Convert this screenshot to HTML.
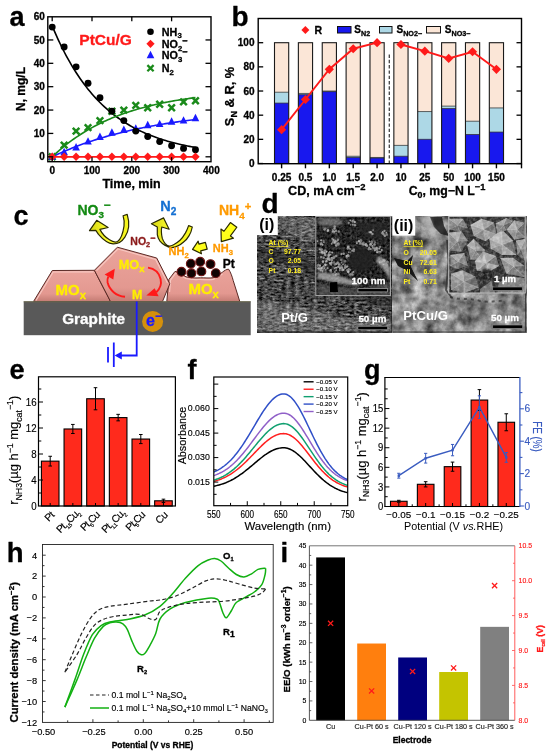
<!DOCTYPE html>
<html><head><meta charset="utf-8"><title>Figure</title>
<style>
html,body{margin:0;padding:0;background:#fff;overflow:hidden;}
svg{display:block;font-family:'Liberation Sans', Arial, sans-serif;}
</style></head><body>
<svg width="550" height="755" viewBox="0 0 550 755">
<rect width="550" height="755" fill="#fff"/>
<g id="pa">
<text x="9.5" y="26.2" font-size="27" font-weight="bold" fill="#000" text-anchor="start"  stroke="#000" stroke-width="0.3" stroke-linejoin="round"><tspan dy="0.00" font-size="27.00">a</tspan></text>
<polyline points="52.20,25.93 54.19,30.64 56.18,35.18 58.17,39.55 60.16,43.77 62.15,47.84 64.14,51.76 66.13,55.54 68.12,59.19 70.11,62.70 72.10,66.09 74.09,69.35 76.08,72.50 78.07,75.53 80.06,78.46 82.05,81.27 84.04,83.99 86.03,86.61 88.02,89.14 90.01,91.57 92.00,93.92 93.99,96.18 95.98,98.36 97.97,100.47 99.96,102.49 101.95,104.45 103.94,106.33 105.93,108.15 107.92,109.90 109.91,111.59 111.90,113.21 113.89,114.78 115.88,116.30 117.87,117.75 119.86,119.16 121.85,120.51 123.84,121.82 125.83,123.08 127.82,124.29 129.81,125.46 131.80,126.59 133.79,127.68 135.78,128.72 137.77,129.73 139.76,130.71 141.75,131.65 143.74,132.55 145.73,133.42 147.72,134.27 149.71,135.08 151.70,135.86 153.69,136.61 155.68,137.34 157.67,138.04 159.66,138.71 161.65,139.37 163.64,139.99 165.63,140.60 167.62,141.18 169.61,141.74 171.60,142.28 173.59,142.81 175.58,143.31 177.57,143.80 179.56,144.26 181.55,144.71 183.54,145.15 185.53,145.57 187.52,145.97 189.51,146.36 191.50,146.74 193.49,147.10 195.48,147.45" fill="none" stroke="#000" stroke-width="1.6" />
<polyline points="52.20,156.80 54.19,154.92 56.18,153.10 58.17,151.33 60.16,149.60 62.15,147.92 64.14,146.29 66.13,144.70 68.12,143.16 70.11,141.65 72.10,140.19 74.09,138.77 76.08,137.39 78.07,136.05 80.06,134.74 82.05,133.47 84.04,132.23 86.03,131.03 88.02,129.86 90.01,128.72 92.00,127.61 93.99,126.54 95.98,125.49 97.97,124.47 99.96,123.48 101.95,122.52 103.94,121.58 105.93,120.67 107.92,119.78 109.91,118.92 111.90,118.08 113.89,117.27 115.88,116.48 117.87,115.71 119.86,114.96 121.85,114.23 123.84,113.52 125.83,112.83 127.82,112.15 129.81,111.50 131.80,110.87 133.79,110.25 135.78,109.65 137.77,109.06 139.76,108.50 141.75,107.94 143.74,107.41 145.73,106.88 147.72,106.38 149.71,105.88 151.70,105.40 153.69,104.93 155.68,104.48 157.67,104.03 159.66,103.60 161.65,103.19 163.64,102.78 165.63,102.38 167.62,102.00 169.61,101.62 171.60,101.26 173.59,100.90 175.58,100.56 177.57,100.22 179.56,99.90 181.55,99.58 183.54,99.27 185.53,98.97 187.52,98.68 189.51,98.40 191.50,98.12 193.49,97.85 195.48,97.59" fill="none" stroke="#1a8a1a" stroke-width="1.6" />
<polyline points="52.20,156.80 54.19,155.85 56.18,154.92 58.17,154.01 60.16,153.11 62.15,152.24 64.14,151.38 66.13,150.53 68.12,149.70 70.11,148.89 72.10,148.09 74.09,147.31 76.08,146.54 78.07,145.79 80.06,145.05 82.05,144.33 84.04,143.62 86.03,142.92 88.02,142.24 90.01,141.56 92.00,140.91 93.99,140.26 95.98,139.63 97.97,139.01 99.96,138.40 101.95,137.80 103.94,137.21 105.93,136.64 107.92,136.07 109.91,135.52 111.90,134.98 113.89,134.45 115.88,133.92 117.87,133.41 119.86,132.91 121.85,132.42 123.84,131.93 125.83,131.46 127.82,130.99 129.81,130.54 131.80,130.09 133.79,129.65 135.78,129.22 137.77,128.79 139.76,128.38 141.75,127.97 143.74,127.57 145.73,127.18 147.72,126.80 149.71,126.42 151.70,126.05 153.69,125.69 155.68,125.33 157.67,124.99 159.66,124.64 161.65,124.31 163.64,123.98 165.63,123.66 167.62,123.34 169.61,123.03 171.60,122.72 173.59,122.42 175.58,122.13 177.57,121.84 179.56,121.56 181.55,121.28 183.54,121.01 185.53,120.75 187.52,120.48 189.51,120.23 191.50,119.98 193.49,119.73 195.48,119.49" fill="none" stroke="#1a1aff" stroke-width="1.6" />
<line x1="52.20" y1="156.80" x2="195.48" y2="156.80" stroke="#ff1a1a" stroke-width="1.8" />
<path d="M48.90,153.50L55.50,160.10M48.90,160.10L55.50,153.50" stroke="#1a8a1a" stroke-width="2.5" fill="none"/>
<path d="M60.84,141.81L67.44,148.42M60.84,148.42L67.44,141.81" stroke="#1a8a1a" stroke-width="2.5" fill="none"/>
<path d="M72.78,127.79L79.38,134.39M72.78,134.39L79.38,127.79" stroke="#1a8a1a" stroke-width="2.5" fill="none"/>
<path d="M84.72,124.29L91.32,130.89M84.72,130.89L91.32,124.29" stroke="#1a8a1a" stroke-width="2.5" fill="none"/>
<path d="M96.66,117.28L103.26,123.88M96.66,123.88L103.26,117.28" stroke="#1a8a1a" stroke-width="2.5" fill="none"/>
<path d="M108.60,107.93L115.20,114.53M108.60,114.53L115.20,107.93" stroke="#1a8a1a" stroke-width="2.5" fill="none"/>
<path d="M120.54,106.76L127.14,113.36M120.54,113.36L127.14,106.76" stroke="#1a8a1a" stroke-width="2.5" fill="none"/>
<path d="M132.48,102.09L139.08,108.69M132.48,108.69L139.08,102.09" stroke="#1a8a1a" stroke-width="2.5" fill="none"/>
<path d="M144.42,104.42L151.02,111.02M144.42,111.02L151.02,104.42" stroke="#1a8a1a" stroke-width="2.5" fill="none"/>
<path d="M156.36,100.92L162.96,107.52M156.36,107.52L162.96,100.92" stroke="#1a8a1a" stroke-width="2.5" fill="none"/>
<path d="M168.30,104.42L174.90,111.02M168.30,111.02L174.90,104.42" stroke="#1a8a1a" stroke-width="2.5" fill="none"/>
<path d="M180.24,98.58L186.84,105.18M180.24,105.18L186.84,98.58" stroke="#1a8a1a" stroke-width="2.5" fill="none"/>
<path d="M192.18,97.41L198.78,104.01M192.18,104.01L198.78,97.41" stroke="#1a8a1a" stroke-width="2.5" fill="none"/>
<path d="M52.20,152.40L56.00,159.80L48.40,159.80Z" fill="#1a1aff"/>
<path d="M64.14,147.73L67.94,155.13L60.34,155.13Z" fill="#1a1aff"/>
<path d="M76.08,143.05L79.88,150.45L72.28,150.45Z" fill="#1a1aff"/>
<path d="M88.02,137.21L91.82,144.61L84.22,144.61Z" fill="#1a1aff"/>
<path d="M99.96,132.54L103.76,139.94L96.16,139.94Z" fill="#1a1aff"/>
<path d="M111.90,128.33L115.70,135.73L108.10,135.73Z" fill="#1a1aff"/>
<path d="M123.84,125.52L127.64,132.92L120.04,132.92Z" fill="#1a1aff"/>
<path d="M135.78,124.36L139.58,131.76L131.98,131.76Z" fill="#1a1aff"/>
<path d="M147.72,120.85L151.52,128.25L143.92,128.25Z" fill="#1a1aff"/>
<path d="M159.66,119.68L163.46,127.08L155.86,127.08Z" fill="#1a1aff"/>
<path d="M171.60,117.35L175.40,124.75L167.80,124.75Z" fill="#1a1aff"/>
<path d="M183.54,116.18L187.34,123.58L179.74,123.58Z" fill="#1a1aff"/>
<path d="M195.48,113.84L199.28,121.24L191.68,121.24Z" fill="#1a1aff"/>
<circle cx="52.20" cy="27.10" r="3.45" fill="#000"/>
<circle cx="64.14" cy="46.96" r="3.45" fill="#000"/>
<circle cx="76.08" cy="66.83" r="3.45" fill="#000"/>
<circle cx="88.02" cy="83.18" r="3.45" fill="#000"/>
<circle cx="99.96" cy="97.67" r="3.45" fill="#000"/>
<circle cx="111.90" cy="111.23" r="3.45" fill="#000"/>
<circle cx="123.84" cy="120.58" r="3.45" fill="#000"/>
<circle cx="135.78" cy="131.09" r="3.45" fill="#000"/>
<circle cx="147.72" cy="136.47" r="3.45" fill="#000"/>
<circle cx="159.66" cy="141.61" r="3.45" fill="#000"/>
<circle cx="171.60" cy="145.82" r="3.45" fill="#000"/>
<circle cx="183.54" cy="148.39" r="3.45" fill="#000"/>
<circle cx="195.48" cy="149.79" r="3.45" fill="#000"/>
<path d="M52.20,152.60L56.40,156.80L52.20,161.00L48.00,156.80Z" fill="#ff1a1a"/>
<path d="M64.14,152.60L68.34,156.80L64.14,161.00L59.94,156.80Z" fill="#ff1a1a"/>
<path d="M76.08,152.60L80.28,156.80L76.08,161.00L71.88,156.80Z" fill="#ff1a1a"/>
<path d="M88.02,152.60L92.22,156.80L88.02,161.00L83.82,156.80Z" fill="#ff1a1a"/>
<path d="M99.96,152.60L104.16,156.80L99.96,161.00L95.76,156.80Z" fill="#ff1a1a"/>
<path d="M111.90,152.60L116.10,156.80L111.90,161.00L107.70,156.80Z" fill="#ff1a1a"/>
<path d="M123.84,152.60L128.04,156.80L123.84,161.00L119.64,156.80Z" fill="#ff1a1a"/>
<path d="M135.78,152.60L139.98,156.80L135.78,161.00L131.58,156.80Z" fill="#ff1a1a"/>
<path d="M147.72,152.60L151.92,156.80L147.72,161.00L143.52,156.80Z" fill="#ff1a1a"/>
<path d="M159.66,152.60L163.86,156.80L159.66,161.00L155.46,156.80Z" fill="#ff1a1a"/>
<path d="M171.60,152.60L175.80,156.80L171.60,161.00L167.40,156.80Z" fill="#ff1a1a"/>
<path d="M183.54,152.60L187.74,156.80L183.54,161.00L179.34,156.80Z" fill="#ff1a1a"/>
<path d="M195.48,152.60L199.68,156.80L195.48,161.00L191.28,156.80Z" fill="#ff1a1a"/>
<rect x="47.80" y="16.80" width="163.20" height="144.90" fill="none" stroke="#000" stroke-width="1.4" />
<line x1="47.80" y1="156.80" x2="53.30" y2="156.80" stroke="#000" stroke-width="1.3" />
<line x1="211.00" y1="156.80" x2="205.50" y2="156.80" stroke="#000" stroke-width="1.3" />
<line x1="47.80" y1="133.43" x2="53.30" y2="133.43" stroke="#000" stroke-width="1.3" />
<line x1="211.00" y1="133.43" x2="205.50" y2="133.43" stroke="#000" stroke-width="1.3" />
<line x1="47.80" y1="110.06" x2="53.30" y2="110.06" stroke="#000" stroke-width="1.3" />
<line x1="211.00" y1="110.06" x2="205.50" y2="110.06" stroke="#000" stroke-width="1.3" />
<line x1="47.80" y1="86.69" x2="53.30" y2="86.69" stroke="#000" stroke-width="1.3" />
<line x1="211.00" y1="86.69" x2="205.50" y2="86.69" stroke="#000" stroke-width="1.3" />
<line x1="47.80" y1="63.32" x2="53.30" y2="63.32" stroke="#000" stroke-width="1.3" />
<line x1="211.00" y1="63.32" x2="205.50" y2="63.32" stroke="#000" stroke-width="1.3" />
<line x1="47.80" y1="39.95" x2="53.30" y2="39.95" stroke="#000" stroke-width="1.3" />
<line x1="211.00" y1="39.95" x2="205.50" y2="39.95" stroke="#000" stroke-width="1.3" />
<text x="44.8" y="160.4" font-size="10" font-weight="bold" fill="#000" text-anchor="end"  stroke="#000" stroke-width="0.3" stroke-linejoin="round"><tspan dy="0.00" font-size="10.00">0</tspan></text>
<text x="44.8" y="137.03" font-size="10" font-weight="bold" fill="#000" text-anchor="end"  stroke="#000" stroke-width="0.3" stroke-linejoin="round"><tspan dy="0.00" font-size="10.00">10</tspan></text>
<text x="44.8" y="113.66" font-size="10" font-weight="bold" fill="#000" text-anchor="end"  stroke="#000" stroke-width="0.3" stroke-linejoin="round"><tspan dy="0.00" font-size="10.00">20</tspan></text>
<text x="44.8" y="90.29" font-size="10" font-weight="bold" fill="#000" text-anchor="end"  stroke="#000" stroke-width="0.3" stroke-linejoin="round"><tspan dy="0.00" font-size="10.00">30</tspan></text>
<text x="44.8" y="66.92" font-size="10" font-weight="bold" fill="#000" text-anchor="end"  stroke="#000" stroke-width="0.3" stroke-linejoin="round"><tspan dy="0.00" font-size="10.00">40</tspan></text>
<text x="44.8" y="43.550000000000004" font-size="10" font-weight="bold" fill="#000" text-anchor="end"  stroke="#000" stroke-width="0.3" stroke-linejoin="round"><tspan dy="0.00" font-size="10.00">50</tspan></text>
<text x="44.8" y="20.180000000000014" font-size="10" font-weight="bold" fill="#000" text-anchor="end"  stroke="#000" stroke-width="0.3" stroke-linejoin="round"><tspan dy="0.00" font-size="10.00">60</tspan></text>
<line x1="52.20" y1="161.70" x2="52.20" y2="157.20" stroke="#000" stroke-width="1.3" />
<line x1="52.20" y1="16.80" x2="52.20" y2="21.30" stroke="#000" stroke-width="1.3" />
<line x1="92.00" y1="161.70" x2="92.00" y2="157.20" stroke="#000" stroke-width="1.3" />
<line x1="92.00" y1="16.80" x2="92.00" y2="21.30" stroke="#000" stroke-width="1.3" />
<line x1="131.80" y1="161.70" x2="131.80" y2="157.20" stroke="#000" stroke-width="1.3" />
<line x1="131.80" y1="16.80" x2="131.80" y2="21.30" stroke="#000" stroke-width="1.3" />
<line x1="171.60" y1="161.70" x2="171.60" y2="157.20" stroke="#000" stroke-width="1.3" />
<line x1="171.60" y1="16.80" x2="171.60" y2="21.30" stroke="#000" stroke-width="1.3" />
<text x="52.2" y="174.3" font-size="10" font-weight="bold" fill="#000" text-anchor="middle"  stroke="#000" stroke-width="0.3" stroke-linejoin="round"><tspan dy="0.00" font-size="10.00">0</tspan></text>
<text x="92.0" y="174.3" font-size="10" font-weight="bold" fill="#000" text-anchor="middle"  stroke="#000" stroke-width="0.3" stroke-linejoin="round"><tspan dy="0.00" font-size="10.00">100</tspan></text>
<text x="131.8" y="174.3" font-size="10" font-weight="bold" fill="#000" text-anchor="middle"  stroke="#000" stroke-width="0.3" stroke-linejoin="round"><tspan dy="0.00" font-size="10.00">200</tspan></text>
<text x="171.60000000000002" y="174.3" font-size="10" font-weight="bold" fill="#000" text-anchor="middle"  stroke="#000" stroke-width="0.3" stroke-linejoin="round"><tspan dy="0.00" font-size="10.00">300</tspan></text>
<text x="211.40000000000003" y="174.3" font-size="10" font-weight="bold" fill="#000" text-anchor="middle"  stroke="#000" stroke-width="0.3" stroke-linejoin="round"><tspan dy="0.00" font-size="10.00">400</tspan></text>
<text x="131.5" y="187.8" font-size="12.5" font-weight="bold" fill="#000" text-anchor="middle"  stroke="#000" stroke-width="0.3" stroke-linejoin="round"><tspan dy="0.00" font-size="12.50">Time, min</tspan></text>
<text x="25.2" y="89" font-size="12" font-weight="bold" fill="#000" text-anchor="middle" transform="rotate(-90 25.2 89)"  stroke="#000" stroke-width="0.3" stroke-linejoin="round"><tspan dy="0.00" font-size="12.00">N, mg/L</tspan></text>
<text x="79.3" y="45.3" font-size="15.5" font-weight="bold" fill="#ff1a1a" text-anchor="start"  stroke="#ff1a1a" stroke-width="0.3" stroke-linejoin="round"><tspan dy="0.00" font-size="15.50">PtCu/G</tspan></text>
<circle cx="150.5" cy="31.8" r="3.3" fill="#000"/>
<path d="M150.5,39.699999999999996L154.6,43.8L150.5,47.9L146.4,43.8Z" fill="#ff1a1a"/>
<path d="M150.5,50.800000000000004L154.3,58.2L146.7,58.2Z" fill="#1a1aff"/>
<path d="M147.4,65.10000000000001L153.6,71.3M147.4,71.3L153.6,65.10000000000001" stroke="#1a8a1a" stroke-width="2.3" fill="none"/>
<text x="161.8" y="35.5" font-size="10.8" font-weight="bold" fill="#000" text-anchor="start"  stroke="#000" stroke-width="0.3" stroke-linejoin="round"><tspan dy="0.00" font-size="10.80">NH</tspan><tspan dy="2.70" font-size="7.78">3</tspan></text>
<text x="161.8" y="47.9" font-size="10.8" font-weight="bold" fill="#000" text-anchor="start"  stroke="#000" stroke-width="0.3" stroke-linejoin="round"><tspan dy="0.00" font-size="10.80">NO</tspan><tspan dy="2.70" font-size="7.78">2</tspan><tspan dy="-6.80" font-size="9.18">−</tspan></text>
<text x="161.8" y="59.4" font-size="10.8" font-weight="bold" fill="#000" text-anchor="start"  stroke="#000" stroke-width="0.3" stroke-linejoin="round"><tspan dy="0.00" font-size="10.80">NO</tspan><tspan dy="2.70" font-size="7.78">3</tspan><tspan dy="-6.80" font-size="9.18">−</tspan></text>
<text x="161.8" y="72" font-size="10.8" font-weight="bold" fill="#000" text-anchor="start"  stroke="#000" stroke-width="0.3" stroke-linejoin="round"><tspan dy="0.00" font-size="10.80">N</tspan><tspan dy="2.70" font-size="7.78">2</tspan></text>
</g>
<g id="pb">
<text x="231.5" y="25.6" font-size="28" font-weight="bold" fill="#000" text-anchor="start"  stroke="#000" stroke-width="0.3" stroke-linejoin="round"><tspan dy="0.00" font-size="28.00">b</tspan></text>
<rect x="274.50" y="42.70" width="14.20" height="49.53" fill="#fbe6d7" stroke="none" stroke-width="1" />
<rect x="274.50" y="92.23" width="14.20" height="10.87" fill="#add8e6" stroke="none" stroke-width="1" />
<rect x="274.50" y="103.10" width="14.20" height="60.40" fill="#1818ee" stroke="none" stroke-width="1" />
<line x1="274.50" y1="92.23" x2="288.70" y2="92.23" stroke="#222" stroke-width="0.7" />
<line x1="274.50" y1="103.10" x2="288.70" y2="103.10" stroke="#222" stroke-width="0.7" />
<rect x="274.50" y="42.70" width="14.20" height="120.80" fill="none" stroke="#1a1a1a" stroke-width="1.1" />
<rect x="298.37" y="42.70" width="14.20" height="50.74" fill="#fbe6d7" stroke="none" stroke-width="1" />
<rect x="298.37" y="93.44" width="14.20" height="1.21" fill="#add8e6" stroke="none" stroke-width="1" />
<rect x="298.37" y="94.64" width="14.20" height="68.86" fill="#1818ee" stroke="none" stroke-width="1" />
<line x1="298.37" y1="93.44" x2="312.57" y2="93.44" stroke="#222" stroke-width="0.7" />
<line x1="298.37" y1="94.64" x2="312.57" y2="94.64" stroke="#222" stroke-width="0.7" />
<rect x="298.37" y="42.70" width="14.20" height="120.80" fill="none" stroke="#1a1a1a" stroke-width="1.1" />
<rect x="322.24" y="42.70" width="14.20" height="48.32" fill="#fbe6d7" stroke="none" stroke-width="1" />
<rect x="322.24" y="91.02" width="14.20" height="0.60" fill="#add8e6" stroke="none" stroke-width="1" />
<rect x="322.24" y="91.62" width="14.20" height="71.88" fill="#1818ee" stroke="none" stroke-width="1" />
<line x1="322.24" y1="91.02" x2="336.44" y2="91.02" stroke="#222" stroke-width="0.7" />
<line x1="322.24" y1="91.62" x2="336.44" y2="91.62" stroke="#222" stroke-width="0.7" />
<rect x="322.24" y="42.70" width="14.20" height="120.80" fill="none" stroke="#1a1a1a" stroke-width="1.1" />
<rect x="346.11" y="42.70" width="14.20" height="113.55" fill="#fbe6d7" stroke="none" stroke-width="1" />
<rect x="346.11" y="156.25" width="14.20" height="1.21" fill="#add8e6" stroke="none" stroke-width="1" />
<rect x="346.11" y="157.46" width="14.20" height="6.04" fill="#1818ee" stroke="none" stroke-width="1" />
<line x1="346.11" y1="156.25" x2="360.31" y2="156.25" stroke="#222" stroke-width="0.7" />
<line x1="346.11" y1="157.46" x2="360.31" y2="157.46" stroke="#222" stroke-width="0.7" />
<rect x="346.11" y="42.70" width="14.20" height="120.80" fill="none" stroke="#1a1a1a" stroke-width="1.1" />
<rect x="369.98" y="42.70" width="14.20" height="114.76" fill="#fbe6d7" stroke="none" stroke-width="1" />
<rect x="369.98" y="157.46" width="14.20" height="0.60" fill="#add8e6" stroke="none" stroke-width="1" />
<rect x="369.98" y="158.06" width="14.20" height="5.44" fill="#1818ee" stroke="none" stroke-width="1" />
<line x1="369.98" y1="157.46" x2="384.18" y2="157.46" stroke="#222" stroke-width="0.7" />
<line x1="369.98" y1="158.06" x2="384.18" y2="158.06" stroke="#222" stroke-width="0.7" />
<rect x="369.98" y="42.70" width="14.20" height="120.80" fill="none" stroke="#1a1a1a" stroke-width="1.1" />
<rect x="393.85" y="42.70" width="14.20" height="102.68" fill="#fbe6d7" stroke="none" stroke-width="1" />
<rect x="393.85" y="145.38" width="14.20" height="10.87" fill="#add8e6" stroke="none" stroke-width="1" />
<rect x="393.85" y="156.25" width="14.20" height="7.25" fill="#1818ee" stroke="none" stroke-width="1" />
<line x1="393.85" y1="145.38" x2="408.05" y2="145.38" stroke="#222" stroke-width="0.7" />
<line x1="393.85" y1="156.25" x2="408.05" y2="156.25" stroke="#222" stroke-width="0.7" />
<rect x="393.85" y="42.70" width="14.20" height="120.80" fill="none" stroke="#1a1a1a" stroke-width="1.1" />
<rect x="417.72" y="42.70" width="14.20" height="68.86" fill="#fbe6d7" stroke="none" stroke-width="1" />
<rect x="417.72" y="111.56" width="14.20" height="27.78" fill="#add8e6" stroke="none" stroke-width="1" />
<rect x="417.72" y="139.34" width="14.20" height="24.16" fill="#1818ee" stroke="none" stroke-width="1" />
<line x1="417.72" y1="111.56" x2="431.92" y2="111.56" stroke="#222" stroke-width="0.7" />
<line x1="417.72" y1="139.34" x2="431.92" y2="139.34" stroke="#222" stroke-width="0.7" />
<rect x="417.72" y="42.70" width="14.20" height="120.80" fill="none" stroke="#1a1a1a" stroke-width="1.1" />
<rect x="441.59" y="42.70" width="14.20" height="63.42" fill="#fbe6d7" stroke="none" stroke-width="1" />
<rect x="441.59" y="106.12" width="14.20" height="2.42" fill="#add8e6" stroke="none" stroke-width="1" />
<rect x="441.59" y="108.54" width="14.20" height="54.96" fill="#1818ee" stroke="none" stroke-width="1" />
<line x1="441.59" y1="106.12" x2="455.79" y2="106.12" stroke="#222" stroke-width="0.7" />
<line x1="441.59" y1="108.54" x2="455.79" y2="108.54" stroke="#222" stroke-width="0.7" />
<rect x="441.59" y="42.70" width="14.20" height="120.80" fill="none" stroke="#1a1a1a" stroke-width="1.1" />
<rect x="465.46" y="42.70" width="14.20" height="78.52" fill="#fbe6d7" stroke="none" stroke-width="1" />
<rect x="465.46" y="121.22" width="14.20" height="13.29" fill="#add8e6" stroke="none" stroke-width="1" />
<rect x="465.46" y="134.51" width="14.20" height="28.99" fill="#1818ee" stroke="none" stroke-width="1" />
<line x1="465.46" y1="121.22" x2="479.66" y2="121.22" stroke="#222" stroke-width="0.7" />
<line x1="465.46" y1="134.51" x2="479.66" y2="134.51" stroke="#222" stroke-width="0.7" />
<rect x="465.46" y="42.70" width="14.20" height="120.80" fill="none" stroke="#1a1a1a" stroke-width="1.1" />
<rect x="489.33" y="42.70" width="14.20" height="65.23" fill="#fbe6d7" stroke="none" stroke-width="1" />
<rect x="489.33" y="107.93" width="14.20" height="24.16" fill="#add8e6" stroke="none" stroke-width="1" />
<rect x="489.33" y="132.09" width="14.20" height="31.41" fill="#1818ee" stroke="none" stroke-width="1" />
<line x1="489.33" y1="107.93" x2="503.53" y2="107.93" stroke="#222" stroke-width="0.7" />
<line x1="489.33" y1="132.09" x2="503.53" y2="132.09" stroke="#222" stroke-width="0.7" />
<rect x="489.33" y="42.70" width="14.20" height="120.80" fill="none" stroke="#1a1a1a" stroke-width="1.1" />
<line x1="389.30" y1="54.50" x2="389.30" y2="163.70" stroke="#444" stroke-width="1.3" stroke-dasharray="3.4 1.9"/>
<polyline points="281.60,129.68 305.47,99.48 329.34,69.28 353.21,48.74 377.08,42.70" fill="none" stroke="#ff1a1a" stroke-width="1.9" />
<polyline points="400.95,44.51 424.82,51.16 448.69,58.40 472.56,51.76 496.43,69.28" fill="none" stroke="#ff1a1a" stroke-width="1.9" />
<path d="M281.60,125.08L286.20,129.68L281.60,134.28L277.00,129.68Z" fill="#ff1a1a"/>
<path d="M305.47,94.88L310.07,99.48L305.47,104.08L300.87,99.48Z" fill="#ff1a1a"/>
<path d="M329.34,64.68L333.94,69.28L329.34,73.88L324.74,69.28Z" fill="#ff1a1a"/>
<path d="M353.21,44.14L357.81,48.74L353.21,53.34L348.61,48.74Z" fill="#ff1a1a"/>
<path d="M377.08,38.10L381.68,42.70L377.08,47.30L372.48,42.70Z" fill="#ff1a1a"/>
<path d="M400.95,39.91L405.55,44.51L400.95,49.11L396.35,44.51Z" fill="#ff1a1a"/>
<path d="M424.82,46.56L429.42,51.16L424.82,55.76L420.22,51.16Z" fill="#ff1a1a"/>
<path d="M448.69,53.80L453.29,58.40L448.69,63.00L444.09,58.40Z" fill="#ff1a1a"/>
<path d="M472.56,47.16L477.16,51.76L472.56,56.36L467.96,51.76Z" fill="#ff1a1a"/>
<path d="M496.43,64.68L501.03,69.28L496.43,73.88L491.83,69.28Z" fill="#ff1a1a"/>
<rect x="258.20" y="18.50" width="263.30" height="145.20" fill="none" stroke="#000" stroke-width="1.4" />
<line x1="258.20" y1="163.50" x2="263.20" y2="163.50" stroke="#000" stroke-width="1.3" />
<line x1="521.50" y1="163.50" x2="516.50" y2="163.50" stroke="#000" stroke-width="1.3" />
<text x="254.5" y="167.1" font-size="10" font-weight="bold" fill="#000" text-anchor="end"  stroke="#000" stroke-width="0.3" stroke-linejoin="round"><tspan dy="0.00" font-size="10.00">0</tspan></text>
<line x1="258.20" y1="139.34" x2="263.20" y2="139.34" stroke="#000" stroke-width="1.3" />
<line x1="521.50" y1="139.34" x2="516.50" y2="139.34" stroke="#000" stroke-width="1.3" />
<text x="254.5" y="142.94" font-size="10" font-weight="bold" fill="#000" text-anchor="end"  stroke="#000" stroke-width="0.3" stroke-linejoin="round"><tspan dy="0.00" font-size="10.00">20</tspan></text>
<line x1="258.20" y1="115.18" x2="263.20" y2="115.18" stroke="#000" stroke-width="1.3" />
<line x1="521.50" y1="115.18" x2="516.50" y2="115.18" stroke="#000" stroke-width="1.3" />
<text x="254.5" y="118.78" font-size="10" font-weight="bold" fill="#000" text-anchor="end"  stroke="#000" stroke-width="0.3" stroke-linejoin="round"><tspan dy="0.00" font-size="10.00">40</tspan></text>
<line x1="258.20" y1="91.02" x2="263.20" y2="91.02" stroke="#000" stroke-width="1.3" />
<line x1="521.50" y1="91.02" x2="516.50" y2="91.02" stroke="#000" stroke-width="1.3" />
<text x="254.5" y="94.61999999999999" font-size="10" font-weight="bold" fill="#000" text-anchor="end"  stroke="#000" stroke-width="0.3" stroke-linejoin="round"><tspan dy="0.00" font-size="10.00">60</tspan></text>
<line x1="258.20" y1="66.86" x2="263.20" y2="66.86" stroke="#000" stroke-width="1.3" />
<line x1="521.50" y1="66.86" x2="516.50" y2="66.86" stroke="#000" stroke-width="1.3" />
<text x="254.5" y="70.46" font-size="10" font-weight="bold" fill="#000" text-anchor="end"  stroke="#000" stroke-width="0.3" stroke-linejoin="round"><tspan dy="0.00" font-size="10.00">80</tspan></text>
<line x1="258.20" y1="42.70" x2="263.20" y2="42.70" stroke="#000" stroke-width="1.3" />
<line x1="521.50" y1="42.70" x2="516.50" y2="42.70" stroke="#000" stroke-width="1.3" />
<text x="254.5" y="46.300000000000004" font-size="10" font-weight="bold" fill="#000" text-anchor="end"  stroke="#000" stroke-width="0.3" stroke-linejoin="round"><tspan dy="0.00" font-size="10.00">100</tspan></text>
<line x1="281.60" y1="163.70" x2="281.60" y2="168.30" stroke="#000" stroke-width="1.4" />
<text x="281.6" y="180.5" font-size="10" font-weight="bold" fill="#000" text-anchor="middle"  stroke="#000" stroke-width="0.3" stroke-linejoin="round"><tspan dy="0.00" font-size="10.00">0.25</tspan></text>
<line x1="305.47" y1="163.70" x2="305.47" y2="168.30" stroke="#000" stroke-width="1.4" />
<text x="305.47" y="180.5" font-size="10" font-weight="bold" fill="#000" text-anchor="middle"  stroke="#000" stroke-width="0.3" stroke-linejoin="round"><tspan dy="0.00" font-size="10.00">0.5</tspan></text>
<line x1="329.34" y1="163.70" x2="329.34" y2="168.30" stroke="#000" stroke-width="1.4" />
<text x="329.34000000000003" y="180.5" font-size="10" font-weight="bold" fill="#000" text-anchor="middle"  stroke="#000" stroke-width="0.3" stroke-linejoin="round"><tspan dy="0.00" font-size="10.00">1.0</tspan></text>
<line x1="353.21" y1="163.70" x2="353.21" y2="168.30" stroke="#000" stroke-width="1.4" />
<text x="353.21000000000004" y="180.5" font-size="10" font-weight="bold" fill="#000" text-anchor="middle"  stroke="#000" stroke-width="0.3" stroke-linejoin="round"><tspan dy="0.00" font-size="10.00">1.5</tspan></text>
<line x1="377.08" y1="163.70" x2="377.08" y2="168.30" stroke="#000" stroke-width="1.4" />
<text x="377.08000000000004" y="180.5" font-size="10" font-weight="bold" fill="#000" text-anchor="middle"  stroke="#000" stroke-width="0.3" stroke-linejoin="round"><tspan dy="0.00" font-size="10.00">2.0</tspan></text>
<line x1="400.95" y1="163.70" x2="400.95" y2="168.30" stroke="#000" stroke-width="1.4" />
<text x="400.95000000000005" y="180.5" font-size="10" font-weight="bold" fill="#000" text-anchor="middle"  stroke="#000" stroke-width="0.3" stroke-linejoin="round"><tspan dy="0.00" font-size="10.00">10</tspan></text>
<line x1="424.82" y1="163.70" x2="424.82" y2="168.30" stroke="#000" stroke-width="1.4" />
<text x="424.82000000000005" y="180.5" font-size="10" font-weight="bold" fill="#000" text-anchor="middle"  stroke="#000" stroke-width="0.3" stroke-linejoin="round"><tspan dy="0.00" font-size="10.00">25</tspan></text>
<line x1="448.69" y1="163.70" x2="448.69" y2="168.30" stroke="#000" stroke-width="1.4" />
<text x="448.69000000000005" y="180.5" font-size="10" font-weight="bold" fill="#000" text-anchor="middle"  stroke="#000" stroke-width="0.3" stroke-linejoin="round"><tspan dy="0.00" font-size="10.00">50</tspan></text>
<line x1="472.56" y1="163.70" x2="472.56" y2="168.30" stroke="#000" stroke-width="1.4" />
<text x="472.56000000000006" y="180.5" font-size="10" font-weight="bold" fill="#000" text-anchor="middle"  stroke="#000" stroke-width="0.3" stroke-linejoin="round"><tspan dy="0.00" font-size="10.00">100</tspan></text>
<line x1="496.43" y1="163.70" x2="496.43" y2="168.30" stroke="#000" stroke-width="1.4" />
<text x="496.43000000000006" y="180.5" font-size="10" font-weight="bold" fill="#000" text-anchor="middle"  stroke="#000" stroke-width="0.3" stroke-linejoin="round"><tspan dy="0.00" font-size="10.00">150</tspan></text>
<line x1="521.50" y1="163.70" x2="521.50" y2="168.30" stroke="#000" stroke-width="1.4" />
<text x="326.8" y="194.6" font-size="12.6" font-weight="bold" fill="#000" text-anchor="middle"  stroke="#000" stroke-width="0.3" stroke-linejoin="round"><tspan dy="0.00" font-size="12.60">CD, mA cm</tspan><tspan dy="-4.79" font-size="9.45">−2</tspan></text>
<text x="447" y="194.6" font-size="12.3" font-weight="bold" fill="#000" text-anchor="middle"  stroke="#000" stroke-width="0.3" stroke-linejoin="round"><tspan dy="0.00" font-size="12.30">C</tspan><tspan dy="3.08" font-size="8.86">0</tspan><tspan dy="-3.08" font-size="12.30">, mg−N L</tspan><tspan dy="-4.67" font-size="9.23">−1</tspan></text>
<text x="234.3" y="96.5" font-size="12.8" font-weight="bold" fill="#000" text-anchor="middle" transform="rotate(-90 234.3 96.5)"  stroke="#000" stroke-width="0.3" stroke-linejoin="round"><tspan dy="0.00" font-size="12.80">S</tspan><tspan dy="3.20" font-size="9.22">N</tspan><tspan dy="-3.20" font-size="12.80"> &amp; R, %</tspan></text>
<path d="M305.4,26L309.4,30L305.4,34L301.4,30Z" fill="#ff1a1a"/>
<text x="314.5" y="33.6" font-size="10.5" font-weight="bold" fill="#000" text-anchor="start"  stroke="#000" stroke-width="0.3" stroke-linejoin="round"><tspan dy="0.00" font-size="10.50">R</tspan></text>
<rect x="337.50" y="26.50" width="13.50" height="6.50" fill="#1818ee" stroke="#111" stroke-width="1" />
<text x="354.3" y="33.3" font-size="10" font-weight="bold" fill="#000" text-anchor="start"  stroke="#000" stroke-width="0.3" stroke-linejoin="round"><tspan dy="0.00" font-size="10.00">S</tspan><tspan dy="2.50" font-size="7.20">N2</tspan></text>
<rect x="379.50" y="26.50" width="12.50" height="6.50" fill="#add8e6" stroke="#111" stroke-width="1" />
<text x="396.5" y="33.3" font-size="10" font-weight="bold" fill="#000" text-anchor="start"  stroke="#000" stroke-width="0.3" stroke-linejoin="round"><tspan dy="0.00" font-size="10.00">S</tspan><tspan dy="2.50" font-size="7.20">NO2−</tspan></text>
<rect x="426.50" y="26.50" width="14.00" height="6.50" fill="#fbe6d7" stroke="#111" stroke-width="1" />
<text x="444.8" y="33.3" font-size="10" font-weight="bold" fill="#000" text-anchor="start"  stroke="#000" stroke-width="0.3" stroke-linejoin="round"><tspan dy="0.00" font-size="10.00">S</tspan><tspan dy="2.50" font-size="7.20">NO3−</tspan></text>
</g>
<g id="pc">
<defs>
<linearGradient id="pk1" x1="0" y1="0" x2="0" y2="1"><stop offset="0" stop-color="#eaa39b"/><stop offset="0.75" stop-color="#e39890"/><stop offset="1" stop-color="#c47c74"/></linearGradient>
<linearGradient id="yel" x1="0" y1="0" x2="1" y2="0"><stop offset="0" stop-color="#d6d610"/><stop offset="0.5" stop-color="#ffff30"/><stop offset="1" stop-color="#f4f41a"/></linearGradient>
</defs>
<text x="13.5" y="225" font-size="27" font-weight="bold" fill="#000" text-anchor="start"  stroke="#000" stroke-width="0.3" stroke-linejoin="round"><tspan dy="0.00" font-size="27.00">c</tspan></text>
<path d="M33.5,301.5 L52.3,270.5 L94.4,270.3 L110.5,301.5 Z" fill="url(#pk1)" stroke="#5a2a26" stroke-width="1"/>
<path d="M36,300.5 L53.2,272 L93.5,271.9" fill="none" stroke="#f7c9c3" stroke-width="1.1"/>
<path d="M166.8,301.5 L168.8,279.5 L175,271.4 C179,272 182,275 186,276.8 C191,278.3 196,278 200.5,277.8 C205,277.8 209,278.3 213.2,277.7 C217,276.5 219.5,274 222.3,272.3 C224.5,270.5 226.5,269.2 228.6,269.2 C230.5,272 232,276 233.2,280.5 L239.8,301.5 Z" fill="url(#pk1)" stroke="#5a2a26" stroke-width="1"/>
<path d="M169.6,292 L170.6,280 L175.6,273.3 C179,273.8 182,276.8 186,278.5 C191,280 196,279.6 200.5,279.5 C205,279.5 209,280 213.2,279.4 C217,278.3 219.5,275.8 222.5,274" fill="none" stroke="#f7c9c3" stroke-width="1.1"/>
<path d="M94.4,270.3 L117.4,247.2 L156.7,258 L169.8,283.8 L162.5,301.5 L110.5,301.5 Z" fill="url(#pk1)" stroke="#5a2a26" stroke-width="1"/>
<path d="M96.6,270.6 L117.9,249 L155.6,259.4 L167.5,283" fill="none" stroke="#f7c9c3" stroke-width="1.1"/>
<rect x="23.70" y="301.40" width="227.00" height="33.80" fill="#595959" stroke="none" stroke-width="1" />
<line x1="23.70" y1="301.80" x2="250.70" y2="301.80" stroke="#6c6a4e" stroke-width="1" />
<text x="62.2" y="323.9" font-size="15.3" font-weight="bold" fill="#fff" text-anchor="start"  stroke="#fff" stroke-width="0.3" stroke-linejoin="round"><tspan dy="0.00" font-size="15.30">Graphite</tspan></text>
<path d="M136.7,301.5 L136.7,355.5 L117,355.5" fill="none" stroke="#1a1aff" stroke-width="1.8"/>
<path d="M114.6,355.5 L121.8,351.6 L121.8,359.4 Z" fill="#1a1aff"/>
<line x1="113.80" y1="342.50" x2="113.80" y2="367.00" stroke="#1a1aff" stroke-width="1.8" />
<line x1="108.00" y1="347.00" x2="108.00" y2="362.60" stroke="#1a1aff" stroke-width="1.8" />
<circle cx="152.6" cy="321.4" r="10.5" fill="#d4900c"/>
<text x="146" y="326.3" font-size="16" font-weight="bold" fill="#1a1aff" text-anchor="start"  stroke="#1a1aff" stroke-width="0.3" stroke-linejoin="round"><tspan dy="0.00" font-size="16.00">e</tspan><tspan dy="-6.08" font-size="12.00">−</tspan></text>
<text x="55.5" y="295.3" font-size="15" font-weight="bold" fill="#ffee00" text-anchor="start"  stroke="#ffee00" stroke-width="0.3" stroke-linejoin="round"><tspan dy="0.00" font-size="15.00">MO</tspan><tspan dy="3.75" font-size="11.25">x</tspan></text>
<text x="118.7" y="269.1" font-size="12.8" font-weight="bold" fill="#ffee00" text-anchor="start"  stroke="#ffee00" stroke-width="0.3" stroke-linejoin="round"><tspan dy="0.00" font-size="12.80">MO</tspan><tspan dy="3.20" font-size="9.60">x</tspan></text>
<text x="132" y="299" font-size="12.5" font-weight="bold" fill="#ffee00" text-anchor="start"  stroke="#ffee00" stroke-width="0.3" stroke-linejoin="round"><tspan dy="0.00" font-size="12.50">M</tspan></text>
<text x="188.4" y="294" font-size="15" font-weight="bold" fill="#ffee00" text-anchor="start"  stroke="#ffee00" stroke-width="0.3" stroke-linejoin="round"><tspan dy="0.00" font-size="15.00">MO</tspan><tspan dy="3.75" font-size="11.25">x</tspan></text>
<path d="M125,296.8 C116,296 109.5,290 107.6,282.5 C107.2,280.5 107.4,278.5 108.3,276.6" fill="none" stroke="#ff1a1a" stroke-width="1.9"/>
<path d="M114.8,268.8 L113.3,279.4 L104.6,274.6 Z" fill="#ff1a1a"/>
<path d="M148,267.6 C154,268.5 159,272.5 160.6,279 C161.8,284.5 159.8,289 156.3,292.2" fill="none" stroke="#ff1a1a" stroke-width="1.9"/>
<path d="M146.3,295.4 L154.6,288.2 L158.6,296.3 Z" fill="#ff1a1a"/>
<circle cx="190.8" cy="263.7" r="4.4" fill="#100404" stroke="#701414" stroke-width="1.1"/>
<circle cx="200.2" cy="261.8" r="4.4" fill="#100404" stroke="#701414" stroke-width="1.1"/>
<circle cx="210.5" cy="264.1" r="4.4" fill="#100404" stroke="#701414" stroke-width="1.1"/>
<circle cx="181.5" cy="271.8" r="4.4" fill="#100404" stroke="#701414" stroke-width="1.1"/>
<circle cx="191.4" cy="273.3" r="4.4" fill="#100404" stroke="#701414" stroke-width="1.1"/>
<circle cx="201.4" cy="271.4" r="4.4" fill="#100404" stroke="#701414" stroke-width="1.1"/>
<circle cx="215.8" cy="273.2" r="4.4" fill="#100404" stroke="#701414" stroke-width="1.1"/>
<text x="222.8" y="267.8" font-size="12" font-weight="bold" fill="#000" text-anchor="start"  stroke="#000" stroke-width="0.3" stroke-linejoin="round"><tspan dy="0.00" font-size="12.00">Pt</tspan></text>
<path d="M123.1,215.7 L127.2,214.4 C129.5,222 129,231 124.9,237.1 C122,241.5 117.5,244 113.1,243.9 C108,243.5 102,238.5 98.5,234.4 L95.8,230.3 L89.5,230.7 L96.7,220.3 L108.1,227.5 L99.9,229.4 C101.5,232.5 105.5,237.5 109.5,239.8 C112,241.5 115.5,242.5 117.6,241.6 C121,239 123,233 124,226.2 C124.5,222 124,218.5 123.1,215.7 Z" fill="url(#yel)" stroke="#2a2a00" stroke-width="1.2" stroke-linejoin="round"/>
<path d="M188.6,225.6 L192.3,227 C191.5,231 190.5,233.5 189.1,235.6 C187.5,238.5 185.5,240.5 183.6,242 C181.5,244 179.5,245.2 177.3,246.1 C175,247.2 173,247.7 170.9,247.6 C168.5,247.3 167,246.5 165.5,245.6 C163.5,244.5 161.5,243 160,241.1 C158.5,239 157.6,237 157.3,234.7 L157.3,227 L151.4,223.8 L163.6,217.9 L169.1,229.3 L161.8,227 C161.3,229 161.3,230.5 161.4,232 C161.5,234.5 161.8,236.5 162.3,238.4 C163,240.5 164,242 165,243.4 C166.3,245 167.5,245.8 169.1,246.1 C170.5,246.2 172,245.6 173.6,244.7 C176,243.5 178,242 180,240.2 C182.5,238 184,235.5 185.5,232.9 C186.8,230.5 187.8,228 188.6,225.6 Z" fill="url(#yel)" stroke="#2a2a00" stroke-width="1.2" stroke-linejoin="round"/>
<path transform="translate(233.6 224.9) rotate(126.2)" d="M0,-4.0 L10.8,-4.0 L10.8,-7.75 L20.8,0 L10.8,7.75 L10.8,4.0 L0,4.0 Z" fill="#ffff1a" stroke="#2a2a00" stroke-width="1.2" stroke-linejoin="round"/>
<path transform="translate(206.3 245.8) rotate(165.3)" d="M0,-3.5 L6.7,-3.5 L6.7,-6.5 L14.2,0 L6.7,6.5 L6.7,3.5 L0,3.5 Z" fill="#ffff1a" stroke="#2a2a00" stroke-width="1.2" stroke-linejoin="round"/>
<text x="77.5" y="214.8" font-size="14" font-weight="bold" fill="#138a13" text-anchor="start"  stroke="#138a13" stroke-width="0.3" stroke-linejoin="round"><tspan dy="0.00" font-size="14.00">NO</tspan><tspan dy="3.50" font-size="9.80">3</tspan><tspan dy="-8.82" font-size="11.90">−</tspan></text>
<text x="160.3" y="211" font-size="14.5" font-weight="bold" fill="#1470d2" text-anchor="start"  stroke="#1470d2" stroke-width="0.3" stroke-linejoin="round"><tspan dy="0.00" font-size="14.50">N</tspan><tspan dy="3.62" font-size="10.15">2</tspan></text>
<text x="219" y="215" font-size="14" font-weight="bold" fill="#ff9a00" text-anchor="start"  stroke="#ff9a00" stroke-width="0.3" stroke-linejoin="round"><tspan dy="0.00" font-size="14.00">NH</tspan><tspan dy="3.50" font-size="9.80">4</tspan><tspan dy="-8.82" font-size="11.20">+</tspan></text>
<text x="130.3" y="244.5" font-size="10.5" font-weight="bold" fill="#8b1a1a" text-anchor="start"  stroke="#8b1a1a" stroke-width="0.3" stroke-linejoin="round"><tspan dy="0.00" font-size="10.50">NO</tspan><tspan dy="2.62" font-size="7.35">2</tspan><tspan dy="-6.62" font-size="8.92">−</tspan></text>
<text x="168.6" y="255.3" font-size="11" font-weight="bold" fill="#ff9a00" text-anchor="start"  stroke="#ff9a00" stroke-width="0.3" stroke-linejoin="round"><tspan dy="0.00" font-size="11.00">NH</tspan><tspan dy="2.75" font-size="7.70">2</tspan></text>
<text x="212.8" y="252.2" font-size="11" font-weight="bold" fill="#ff9a00" text-anchor="start"  stroke="#ff9a00" stroke-width="0.3" stroke-linejoin="round"><tspan dy="0.00" font-size="11.00">NH</tspan><tspan dy="2.75" font-size="7.70">3</tspan></text>
</g>
<g id="pd">
<defs>
<filter id="nz1" x="0" y="0" width="100%" height="100%" color-interpolation-filters="sRGB">
 <feTurbulence type="fractalNoise" baseFrequency="0.22 0.5" numOctaves="3" seed="3" result="t"/>
 <feColorMatrix in="t" type="matrix" values="0.7 0.7 0 0 -0.42  0.7 0.7 0 0 -0.42  0.7 0.7 0 0 -0.42  0 0 0 0 1"/>
</filter>
<filter id="nz1b" x="0" y="0" width="100%" height="100%" color-interpolation-filters="sRGB">
 <feTurbulence type="fractalNoise" baseFrequency="0.4" numOctaves="2" seed="11" result="t"/>
 <feColorMatrix in="t" type="matrix" values="0.35 0.35 0 0 -0.21  0.35 0.35 0 0 -0.21  0.35 0.35 0 0 -0.21  0 0 0 0 1"/>
</filter>
<filter id="nz2" x="0" y="0" width="100%" height="100%" color-interpolation-filters="sRGB">
 <feTurbulence type="fractalNoise" baseFrequency="0.08" numOctaves="4" seed="7" result="t"/>
 <feColorMatrix in="t" type="matrix" values="0.68 0.68 0 0 -0.15  0.68 0.68 0 0 -0.15  0.68 0.68 0 0 -0.15  0 0 0 0 1"/>
</filter>
<filter id="nz2b" x="0" y="0" width="100%" height="100%" color-interpolation-filters="sRGB">
 <feTurbulence type="fractalNoise" baseFrequency="0.3" numOctaves="2" seed="5" result="t"/>
 <feColorMatrix in="t" type="matrix" values="0 0 0 0 1  0 0 0 0 1  0 0 0 0 1  0.5 0.5 0 0 -0.42"/>
</filter>
<filter id="glow" x="-20%" y="-20%" width="140%" height="140%"><feGaussianBlur stdDeviation="0.6"/></filter>
<filter id="b1" x="-30%" y="-30%" width="160%" height="160%"><feGaussianBlur stdDeviation="1"/></filter>
<filter id="blob" x="-30%" y="-30%" width="160%" height="160%"><feGaussianBlur stdDeviation="1.8"/></filter>
<filter id="blob3" x="-40%" y="-40%" width="180%" height="180%"><feGaussianBlur stdDeviation="3.5"/></filter>
<clipPath id="cl1"><rect x="257" y="216.4" width="135.5" height="116.4"/></clipPath>
<clipPath id="cl1i"><rect x="315.8" y="216.4" width="74.6" height="79.2"/></clipPath>
<clipPath id="cl2"><rect x="392.5" y="216.4" width="133.7" height="116.4"/></clipPath>
<clipPath id="cl2i"><rect x="448.8" y="216.4" width="76.4" height="76.6"/></clipPath>
</defs>
<text x="261.5" y="212.7" font-size="28" font-weight="bold" fill="#000" text-anchor="start"  stroke="#000" stroke-width="0.3" stroke-linejoin="round"><tspan dy="0.00" font-size="28.00">d</tspan></text>
<rect x="257.00" y="216.40" width="135.50" height="116.40" fill="#555" stroke="none" stroke-width="1" />
<rect x="257.00" y="216.40" width="135.50" height="116.40" fill="#fff" stroke="none" stroke-width="0" filter="url(#nz1)"/>
<g clip-path="url(#cl1)">
<path d="M257,258 L300,268 L340,296 L393,308 L393,296 L345,284 L300,254 L257,246 Z" fill="#1c1c1c" opacity="0.45" filter="url(#blob)"/>
<path d="M278,217 L316,217 L316,240 L290,236 Z" fill="#bbb" opacity="0.25" filter="url(#blob)"/>
<path d="M257,300 L300,306 L340,318 L393,322 L393,334 L257,334 Z" fill="#ddd" opacity="0.24" filter="url(#blob)"/>
<path d="M392,216.4 L392,332.8 M257,332.2 L392.5,332.2" stroke="#1a1a1a" stroke-width="1.2" fill="none"/>
</g>
<rect x="315.80" y="216.40" width="74.60" height="79.20" fill="#2c2c2c" stroke="none" stroke-width="1" />
<rect x="315.80" y="216.40" width="74.60" height="79.20" fill="#fff" stroke="none" stroke-width="0" filter="url(#nz1b)"/>
<g clip-path="url(#cl1i)">
<ellipse cx="330" cy="222" rx="13" ry="4.5" fill="#9a9a9a" opacity="0.6" filter="url(#blob)"/>
<circle cx="361.2" cy="259.5" r="12.5" fill="#202020" opacity="0.8" filter="url(#blob)"/>
<path d="M352,222 L388,222 L388,240 L366,238 Z" fill="#2a2a2a" opacity="0.6" filter="url(#blob)"/>
<path d="M318,272 C330,272 345,278 358,282 L359,286 C345,285 330,281 318,279 Z" fill="#cfcfcf" opacity="0.65" filter="url(#b1)"/>
<path d="M378,256 C384,258 388,262 390,268 L390,280 C386,272 382,266 376,262 Z" fill="#c8c8c8" opacity="0.7" filter="url(#b1)"/>
<path d="M318,283 L360,290 L390,282 L390,296 L318,296 Z" fill="#777" opacity="0.5" filter="url(#blob)"/>
<circle cx="323.1" cy="251.4" r="0.84" fill="rgb(126,126,126)" opacity="0.85"/>
<circle cx="321.1" cy="249.5" r="1.25" fill="rgb(127,127,127)" opacity="0.85"/>
<circle cx="324.3" cy="251.1" r="0.83" fill="rgb(173,173,173)" opacity="0.85"/>
<circle cx="326.7" cy="251.4" r="0.86" fill="rgb(192,192,192)" opacity="0.85"/>
<circle cx="324.7" cy="253.1" r="1.09" fill="rgb(127,127,127)" opacity="0.85"/>
<circle cx="320.1" cy="252.4" r="1.08" fill="rgb(125,125,125)" opacity="0.85"/>
<circle cx="326.2" cy="251.9" r="0.86" fill="rgb(189,189,189)" opacity="0.85"/>
<circle cx="322.4" cy="253.4" r="0.85" fill="rgb(143,143,143)" opacity="0.85"/>
<circle cx="322.0" cy="249.3" r="1.07" fill="rgb(132,132,132)" opacity="0.85"/>
<circle cx="325.1" cy="250.4" r="1.05" fill="rgb(146,146,146)" opacity="0.85"/>
<circle cx="319.7" cy="249.3" r="1.09" fill="rgb(179,179,179)" opacity="0.85"/>
<circle cx="321.4" cy="250.6" r="1.15" fill="rgb(143,143,143)" opacity="0.85"/>
<circle cx="324.1" cy="253.0" r="1.05" fill="rgb(187,187,187)" opacity="0.85"/>
<circle cx="322.1" cy="252.2" r="1.29" fill="rgb(197,197,197)" opacity="0.85"/>
<circle cx="338.9" cy="274.1" r="0.88" fill="rgb(163,163,163)" opacity="0.85"/>
<circle cx="334.8" cy="272.1" r="1.18" fill="rgb(129,129,129)" opacity="0.85"/>
<circle cx="331.0" cy="270.0" r="0.97" fill="rgb(160,160,160)" opacity="0.85"/>
<circle cx="333.5" cy="274.7" r="0.83" fill="rgb(178,178,178)" opacity="0.85"/>
<circle cx="338.6" cy="273.4" r="0.83" fill="rgb(128,128,128)" opacity="0.85"/>
<circle cx="334.6" cy="268.3" r="0.94" fill="rgb(177,177,177)" opacity="0.85"/>
<circle cx="332.3" cy="274.6" r="1.27" fill="rgb(122,122,122)" opacity="0.85"/>
<circle cx="333.1" cy="275.0" r="0.83" fill="rgb(183,183,183)" opacity="0.85"/>
<circle cx="336.2" cy="270.3" r="1.00" fill="rgb(151,151,151)" opacity="0.85"/>
<circle cx="339.7" cy="270.3" r="1.02" fill="rgb(141,141,141)" opacity="0.85"/>
<circle cx="330.6" cy="270.6" r="1.23" fill="rgb(175,175,175)" opacity="0.85"/>
<circle cx="335.3" cy="275.0" r="1.14" fill="rgb(165,165,165)" opacity="0.85"/>
<circle cx="333.9" cy="273.6" r="0.89" fill="rgb(130,130,130)" opacity="0.85"/>
<circle cx="336.3" cy="274.3" r="1.22" fill="rgb(182,182,182)" opacity="0.85"/>
<circle cx="337.3" cy="274.3" r="1.01" fill="rgb(138,138,138)" opacity="0.85"/>
<circle cx="332.9" cy="274.6" r="1.15" fill="rgb(136,136,136)" opacity="0.85"/>
<circle cx="331.3" cy="271.6" r="1.03" fill="rgb(126,126,126)" opacity="0.85"/>
<circle cx="340.0" cy="268.6" r="1.00" fill="rgb(191,191,191)" opacity="0.85"/>
<circle cx="348.7" cy="272.8" r="0.83" fill="rgb(171,171,171)" opacity="0.85"/>
<circle cx="352.1" cy="272.8" r="0.85" fill="rgb(140,140,140)" opacity="0.85"/>
<circle cx="348.7" cy="271.2" r="0.88" fill="rgb(192,192,192)" opacity="0.85"/>
<circle cx="352.4" cy="273.4" r="0.84" fill="rgb(123,123,123)" opacity="0.85"/>
<circle cx="350.8" cy="274.4" r="1.28" fill="rgb(152,152,152)" opacity="0.85"/>
<circle cx="347.2" cy="270.3" r="1.22" fill="rgb(134,134,134)" opacity="0.85"/>
<circle cx="353.4" cy="271.9" r="0.96" fill="rgb(181,181,181)" opacity="0.85"/>
<circle cx="352.7" cy="274.7" r="1.04" fill="rgb(153,153,153)" opacity="0.85"/>
<circle cx="348.7" cy="269.3" r="1.28" fill="rgb(146,146,146)" opacity="0.85"/>
<circle cx="348.1" cy="271.7" r="1.26" fill="rgb(189,189,189)" opacity="0.85"/>
<circle cx="350.1" cy="269.8" r="1.15" fill="rgb(131,131,131)" opacity="0.85"/>
<circle cx="349.8" cy="274.4" r="0.98" fill="rgb(141,141,141)" opacity="0.85"/>
<circle cx="372.4" cy="233.7" r="0.96" fill="rgb(184,184,184)" opacity="0.85"/>
<circle cx="372.5" cy="234.1" r="1.20" fill="rgb(144,144,144)" opacity="0.85"/>
<circle cx="373.1" cy="230.1" r="0.90" fill="rgb(149,149,149)" opacity="0.85"/>
<circle cx="369.4" cy="232.1" r="1.20" fill="rgb(123,123,123)" opacity="0.85"/>
<circle cx="370.7" cy="232.2" r="1.28" fill="rgb(197,197,197)" opacity="0.85"/>
<circle cx="324.5" cy="229.5" r="1.28" fill="rgb(164,164,164)" opacity="0.85"/>
<circle cx="328.1" cy="229.7" r="1.04" fill="rgb(149,149,149)" opacity="0.85"/>
<circle cx="327.8" cy="230.8" r="1.22" fill="rgb(198,198,198)" opacity="0.85"/>
<circle cx="325.2" cy="228.5" r="1.22" fill="rgb(130,130,130)" opacity="0.85"/>
<circle cx="332.7" cy="230.0" r="1.04" fill="rgb(145,145,145)" opacity="0.85"/>
<circle cx="332.3" cy="231.8" r="0.84" fill="rgb(162,162,162)" opacity="0.85"/>
<circle cx="334.8" cy="226.6" r="1.00" fill="rgb(179,179,179)" opacity="0.85"/>
<circle cx="334.8" cy="226.7" r="1.30" fill="rgb(141,141,141)" opacity="0.85"/>
<circle cx="334.5" cy="228.6" r="1.20" fill="rgb(179,179,179)" opacity="0.85"/>
<circle cx="333.3" cy="231.5" r="1.13" fill="rgb(180,180,180)" opacity="0.85"/>
<circle cx="350.6" cy="224.9" r="0.81" fill="rgb(136,136,136)" opacity="0.85"/>
<circle cx="353.3" cy="220.4" r="1.06" fill="rgb(133,133,133)" opacity="0.85"/>
<circle cx="354.7" cy="222.1" r="1.21" fill="rgb(144,144,144)" opacity="0.85"/>
<circle cx="352.8" cy="224.6" r="1.05" fill="rgb(157,157,157)" opacity="0.85"/>
<circle cx="352.5" cy="221.2" r="1.01" fill="rgb(189,189,189)" opacity="0.85"/>
<circle cx="354.9" cy="225.2" r="1.25" fill="rgb(165,165,165)" opacity="0.85"/>
<circle cx="350.4" cy="220.5" r="1.01" fill="rgb(186,186,186)" opacity="0.85"/>
<circle cx="354.8" cy="221.9" r="0.88" fill="rgb(188,188,188)" opacity="0.85"/>
<circle cx="348.6" cy="222.8" r="1.10" fill="rgb(143,143,143)" opacity="0.85"/>
<circle cx="352.6" cy="221.8" r="1.04" fill="rgb(138,138,138)" opacity="0.85"/>
<circle cx="384.5" cy="231.0" r="1.14" fill="rgb(161,161,161)" opacity="0.85"/>
<circle cx="382.3" cy="233.0" r="1.24" fill="rgb(133,133,133)" opacity="0.85"/>
<circle cx="386.6" cy="233.9" r="1.19" fill="rgb(125,125,125)" opacity="0.85"/>
<circle cx="382.0" cy="233.3" r="1.02" fill="rgb(128,128,128)" opacity="0.85"/>
<circle cx="382.8" cy="231.9" r="0.90" fill="rgb(185,185,185)" opacity="0.85"/>
<circle cx="384.5" cy="235.6" r="1.05" fill="rgb(181,181,181)" opacity="0.85"/>
<circle cx="385.0" cy="235.7" r="1.26" fill="rgb(153,153,153)" opacity="0.85"/>
<circle cx="386.4" cy="232.5" r="0.87" fill="rgb(177,177,177)" opacity="0.85"/>
<circle cx="386.9" cy="234.9" r="1.14" fill="rgb(129,129,129)" opacity="0.85"/>
<circle cx="383.3" cy="234.0" r="1.19" fill="rgb(158,158,158)" opacity="0.85"/>
<circle cx="336.0" cy="241.4" r="0.87" fill="rgb(166,166,166)" opacity="0.85"/>
<circle cx="338.0" cy="239.7" r="1.17" fill="rgb(148,148,148)" opacity="0.85"/>
<circle cx="338.3" cy="244.4" r="1.29" fill="rgb(140,140,140)" opacity="0.85"/>
<circle cx="335.4" cy="240.9" r="1.30" fill="rgb(175,175,175)" opacity="0.85"/>
<circle cx="331.7" cy="243.8" r="0.96" fill="rgb(165,165,165)" opacity="0.85"/>
<circle cx="334.3" cy="241.8" r="1.03" fill="rgb(190,190,190)" opacity="0.85"/>
<circle cx="333.5" cy="239.9" r="1.11" fill="rgb(186,186,186)" opacity="0.85"/>
<circle cx="333.1" cy="242.2" r="1.29" fill="rgb(149,149,149)" opacity="0.85"/>
<circle cx="336.4" cy="243.6" r="1.25" fill="rgb(125,125,125)" opacity="0.85"/>
<circle cx="336.2" cy="245.5" r="1.22" fill="rgb(174,174,174)" opacity="0.85"/>
<circle cx="332.2" cy="238.8" r="0.87" fill="rgb(171,171,171)" opacity="0.85"/>
<circle cx="337.7" cy="240.8" r="0.84" fill="rgb(161,161,161)" opacity="0.85"/>
<circle cx="338.3" cy="243.5" r="1.25" fill="rgb(174,174,174)" opacity="0.85"/>
<circle cx="334.3" cy="242.8" r="1.20" fill="rgb(131,131,131)" opacity="0.85"/>
<circle cx="338.4" cy="244.2" r="0.93" fill="rgb(128,128,128)" opacity="0.85"/>
<circle cx="334.8" cy="242.6" r="1.01" fill="rgb(190,190,190)" opacity="0.85"/>
<circle cx="323.7" cy="240.7" r="1.06" fill="rgb(125,125,125)" opacity="0.85"/>
<circle cx="321.1" cy="243.1" r="0.93" fill="rgb(140,140,140)" opacity="0.85"/>
<circle cx="322.6" cy="244.8" r="0.95" fill="rgb(200,200,200)" opacity="0.85"/>
<circle cx="321.1" cy="240.3" r="1.14" fill="rgb(184,184,184)" opacity="0.85"/>
<circle cx="320.5" cy="244.8" r="0.82" fill="rgb(152,152,152)" opacity="0.85"/>
<circle cx="323.8" cy="242.3" r="1.06" fill="rgb(144,144,144)" opacity="0.85"/>
<circle cx="321.1" cy="244.1" r="1.13" fill="rgb(175,175,175)" opacity="0.85"/>
<circle cx="317.4" cy="241.1" r="0.95" fill="rgb(184,184,184)" opacity="0.85"/>
<circle cx="321.4" cy="243.5" r="1.22" fill="rgb(145,145,145)" opacity="0.85"/>
<circle cx="348.2" cy="247.4" r="1.29" fill="rgb(171,171,171)" opacity="0.85"/>
<circle cx="353.8" cy="250.1" r="0.84" fill="rgb(121,121,121)" opacity="0.85"/>
<circle cx="349.2" cy="248.5" r="0.83" fill="rgb(140,140,140)" opacity="0.85"/>
<circle cx="347.7" cy="248.4" r="1.14" fill="rgb(184,184,184)" opacity="0.85"/>
<circle cx="348.8" cy="252.4" r="0.82" fill="rgb(157,157,157)" opacity="0.85"/>
<circle cx="350.3" cy="252.4" r="0.93" fill="rgb(120,120,120)" opacity="0.85"/>
<circle cx="354.1" cy="249.6" r="0.96" fill="rgb(190,190,190)" opacity="0.85"/>
<circle cx="353.9" cy="251.3" r="0.98" fill="rgb(147,147,147)" opacity="0.85"/>
<circle cx="352.4" cy="250.5" r="0.94" fill="rgb(180,180,180)" opacity="0.85"/>
<circle cx="347.9" cy="248.8" r="0.85" fill="rgb(120,120,120)" opacity="0.85"/>
<circle cx="350.1" cy="249.1" r="0.82" fill="rgb(195,195,195)" opacity="0.85"/>
<circle cx="352.0" cy="250.8" r="0.84" fill="rgb(149,149,149)" opacity="0.85"/>
<circle cx="353.8" cy="249.5" r="1.13" fill="rgb(139,139,139)" opacity="0.85"/>
<circle cx="348.3" cy="246.8" r="1.18" fill="rgb(169,169,169)" opacity="0.85"/>
<circle cx="360.6" cy="241.0" r="1.16" fill="rgb(156,156,156)" opacity="0.85"/>
<circle cx="360.5" cy="243.1" r="1.11" fill="rgb(185,185,185)" opacity="0.85"/>
<circle cx="360.7" cy="240.2" r="1.25" fill="rgb(137,137,137)" opacity="0.85"/>
<circle cx="361.3" cy="240.8" r="1.21" fill="rgb(122,122,122)" opacity="0.85"/>
<circle cx="357.1" cy="241.9" r="0.84" fill="rgb(149,149,149)" opacity="0.85"/>
<circle cx="365.1" cy="244.6" r="0.99" fill="rgb(133,133,133)" opacity="0.85"/>
<circle cx="360.1" cy="244.1" r="1.11" fill="rgb(122,122,122)" opacity="0.85"/>
<circle cx="359.7" cy="241.3" r="1.03" fill="rgb(120,120,120)" opacity="0.85"/>
<circle cx="365.6" cy="245.4" r="0.85" fill="rgb(188,188,188)" opacity="0.85"/>
<circle cx="356.9" cy="243.2" r="0.93" fill="rgb(180,180,180)" opacity="0.85"/>
<circle cx="363.5" cy="244.7" r="0.92" fill="rgb(146,146,146)" opacity="0.85"/>
<circle cx="359.2" cy="241.6" r="0.84" fill="rgb(168,168,168)" opacity="0.85"/>
<circle cx="363.5" cy="242.7" r="1.11" fill="rgb(125,125,125)" opacity="0.85"/>
<circle cx="360.3" cy="242.9" r="0.97" fill="rgb(138,138,138)" opacity="0.85"/>
<circle cx="358.8" cy="241.1" r="1.08" fill="rgb(199,199,199)" opacity="0.85"/>
<circle cx="362.4" cy="243.9" r="1.29" fill="rgb(154,154,154)" opacity="0.85"/>
<circle cx="372.4" cy="245.9" r="0.95" fill="rgb(182,182,182)" opacity="0.85"/>
<circle cx="366.0" cy="244.3" r="1.18" fill="rgb(179,179,179)" opacity="0.85"/>
<circle cx="374.5" cy="244.4" r="1.29" fill="rgb(159,159,159)" opacity="0.85"/>
<circle cx="370.8" cy="244.4" r="0.84" fill="rgb(178,178,178)" opacity="0.85"/>
<circle cx="364.1" cy="244.4" r="0.99" fill="rgb(154,154,154)" opacity="0.85"/>
<circle cx="375.1" cy="242.3" r="1.09" fill="rgb(129,129,129)" opacity="0.85"/>
<circle cx="372.8" cy="247.3" r="0.87" fill="rgb(166,166,166)" opacity="0.85"/>
<circle cx="371.9" cy="241.5" r="1.15" fill="rgb(134,134,134)" opacity="0.85"/>
<circle cx="370.8" cy="249.1" r="1.00" fill="rgb(182,182,182)" opacity="0.85"/>
<circle cx="373.3" cy="248.5" r="1.00" fill="rgb(177,177,177)" opacity="0.85"/>
<circle cx="369.5" cy="241.5" r="0.96" fill="rgb(168,168,168)" opacity="0.85"/>
<circle cx="370.2" cy="244.4" r="1.22" fill="rgb(163,163,163)" opacity="0.85"/>
<circle cx="374.3" cy="247.8" r="1.25" fill="rgb(121,121,121)" opacity="0.85"/>
<circle cx="369.2" cy="247.4" r="1.00" fill="rgb(170,170,170)" opacity="0.85"/>
<circle cx="371.2" cy="243.6" r="1.18" fill="rgb(174,174,174)" opacity="0.85"/>
<circle cx="372.0" cy="242.6" r="1.22" fill="rgb(126,126,126)" opacity="0.85"/>
<circle cx="368.8" cy="249.1" r="1.29" fill="rgb(151,151,151)" opacity="0.85"/>
<circle cx="367.0" cy="245.7" r="1.19" fill="rgb(167,167,167)" opacity="0.85"/>
<circle cx="376.8" cy="249.3" r="1.00" fill="rgb(200,200,200)" opacity="0.85"/>
<circle cx="380.2" cy="246.9" r="1.16" fill="rgb(146,146,146)" opacity="0.85"/>
<circle cx="381.7" cy="250.0" r="1.11" fill="rgb(177,177,177)" opacity="0.85"/>
<circle cx="380.6" cy="251.9" r="0.82" fill="rgb(182,182,182)" opacity="0.85"/>
<circle cx="379.2" cy="248.4" r="1.01" fill="rgb(180,180,180)" opacity="0.85"/>
<circle cx="377.1" cy="251.0" r="1.00" fill="rgb(153,153,153)" opacity="0.85"/>
<circle cx="377.8" cy="251.8" r="0.86" fill="rgb(170,170,170)" opacity="0.85"/>
<circle cx="376.7" cy="248.1" r="1.25" fill="rgb(184,184,184)" opacity="0.85"/>
<circle cx="375.3" cy="249.0" r="1.30" fill="rgb(162,162,162)" opacity="0.85"/>
<circle cx="375.8" cy="249.5" r="0.92" fill="rgb(144,144,144)" opacity="0.85"/>
<circle cx="379.3" cy="251.7" r="0.92" fill="rgb(160,160,160)" opacity="0.85"/>
<circle cx="377.4" cy="252.0" r="1.17" fill="rgb(122,122,122)" opacity="0.85"/>
<circle cx="374.9" cy="250.3" r="0.91" fill="rgb(187,187,187)" opacity="0.85"/>
<circle cx="377.1" cy="252.4" r="0.94" fill="rgb(183,183,183)" opacity="0.85"/>
<circle cx="333.0" cy="258.2" r="1.06" fill="rgb(184,184,184)" opacity="0.85"/>
<circle cx="332.0" cy="252.3" r="0.94" fill="rgb(131,131,131)" opacity="0.85"/>
<circle cx="330.0" cy="263.3" r="1.02" fill="rgb(177,177,177)" opacity="0.85"/>
<circle cx="326.8" cy="264.7" r="0.86" fill="rgb(122,122,122)" opacity="0.85"/>
<circle cx="322.9" cy="261.5" r="1.28" fill="rgb(180,180,180)" opacity="0.85"/>
<circle cx="327.5" cy="258.8" r="1.23" fill="rgb(187,187,187)" opacity="0.85"/>
<circle cx="334.3" cy="258.1" r="0.91" fill="rgb(133,133,133)" opacity="0.85"/>
<circle cx="335.0" cy="264.5" r="1.27" fill="rgb(133,133,133)" opacity="0.85"/>
<circle cx="328.6" cy="253.0" r="0.84" fill="rgb(178,178,178)" opacity="0.85"/>
<circle cx="330.0" cy="258.4" r="0.92" fill="rgb(136,136,136)" opacity="0.85"/>
<circle cx="336.2" cy="255.9" r="1.28" fill="rgb(158,158,158)" opacity="0.85"/>
<circle cx="325.3" cy="255.0" r="1.15" fill="rgb(175,175,175)" opacity="0.85"/>
<circle cx="331.7" cy="259.9" r="1.27" fill="rgb(187,187,187)" opacity="0.85"/>
<circle cx="331.5" cy="262.1" r="0.80" fill="rgb(196,196,196)" opacity="0.85"/>
<circle cx="321.2" cy="257.0" r="1.28" fill="rgb(155,155,155)" opacity="0.85"/>
<circle cx="324.7" cy="253.4" r="1.06" fill="rgb(180,180,180)" opacity="0.85"/>
<circle cx="328.4" cy="258.3" r="1.15" fill="rgb(172,172,172)" opacity="0.85"/>
<circle cx="329.4" cy="259.7" r="1.24" fill="rgb(183,183,183)" opacity="0.85"/>
<circle cx="328.4" cy="257.1" r="1.13" fill="rgb(149,149,149)" opacity="0.85"/>
<circle cx="333.7" cy="257.1" r="1.15" fill="rgb(124,124,124)" opacity="0.85"/>
<circle cx="328.8" cy="254.5" r="0.90" fill="rgb(170,170,170)" opacity="0.85"/>
<circle cx="332.2" cy="252.8" r="0.83" fill="rgb(184,184,184)" opacity="0.85"/>
<circle cx="325.9" cy="258.8" r="0.92" fill="rgb(144,144,144)" opacity="0.85"/>
<circle cx="331.3" cy="264.9" r="0.85" fill="rgb(157,157,157)" opacity="0.85"/>
<circle cx="324.9" cy="254.8" r="1.04" fill="rgb(148,148,148)" opacity="0.85"/>
<circle cx="331.7" cy="257.8" r="0.87" fill="rgb(196,196,196)" opacity="0.85"/>
<circle cx="326.6" cy="260.8" r="0.87" fill="rgb(196,196,196)" opacity="0.85"/>
<circle cx="332.0" cy="259.3" r="1.02" fill="rgb(170,170,170)" opacity="0.85"/>
<circle cx="328.7" cy="254.8" r="1.30" fill="rgb(134,134,134)" opacity="0.85"/>
<circle cx="334.6" cy="257.0" r="1.13" fill="rgb(143,143,143)" opacity="0.85"/>
<circle cx="323.8" cy="257.9" r="1.13" fill="rgb(159,159,159)" opacity="0.85"/>
<circle cx="325.9" cy="261.7" r="1.02" fill="rgb(162,162,162)" opacity="0.85"/>
<circle cx="331.9" cy="260.0" r="0.98" fill="rgb(130,130,130)" opacity="0.85"/>
<circle cx="332.9" cy="258.0" r="0.99" fill="rgb(146,146,146)" opacity="0.85"/>
<circle cx="330.5" cy="254.7" r="0.84" fill="rgb(175,175,175)" opacity="0.85"/>
<circle cx="328.8" cy="255.6" r="1.26" fill="rgb(189,189,189)" opacity="0.85"/>
<circle cx="331.8" cy="262.8" r="0.82" fill="rgb(180,180,180)" opacity="0.85"/>
<circle cx="323.0" cy="262.1" r="0.82" fill="rgb(171,171,171)" opacity="0.85"/>
<circle cx="332.1" cy="259.1" r="0.93" fill="rgb(127,127,127)" opacity="0.85"/>
<circle cx="329.8" cy="251.9" r="0.98" fill="rgb(163,163,163)" opacity="0.85"/>
<circle cx="325.4" cy="264.8" r="0.93" fill="rgb(125,125,125)" opacity="0.85"/>
<circle cx="328.8" cy="254.7" r="0.95" fill="rgb(155,155,155)" opacity="0.85"/>
<circle cx="328.7" cy="253.2" r="0.81" fill="rgb(128,128,128)" opacity="0.85"/>
<circle cx="330.5" cy="263.6" r="1.28" fill="rgb(179,179,179)" opacity="0.85"/>
<circle cx="326.5" cy="261.1" r="1.21" fill="rgb(175,175,175)" opacity="0.85"/>
<circle cx="334.2" cy="262.5" r="1.20" fill="rgb(121,121,121)" opacity="0.85"/>
<circle cx="341.3" cy="259.9" r="1.10" fill="rgb(139,139,139)" opacity="0.85"/>
<circle cx="339.9" cy="267.8" r="1.19" fill="rgb(166,166,166)" opacity="0.85"/>
<circle cx="337.7" cy="262.7" r="1.18" fill="rgb(170,170,170)" opacity="0.85"/>
<circle cx="341.8" cy="266.4" r="1.04" fill="rgb(124,124,124)" opacity="0.85"/>
<circle cx="339.1" cy="264.4" r="1.24" fill="rgb(174,174,174)" opacity="0.85"/>
<circle cx="345.4" cy="264.8" r="0.90" fill="rgb(130,130,130)" opacity="0.85"/>
<circle cx="335.7" cy="267.6" r="0.89" fill="rgb(177,177,177)" opacity="0.85"/>
<circle cx="345.0" cy="267.8" r="1.17" fill="rgb(150,150,150)" opacity="0.85"/>
<circle cx="345.1" cy="261.3" r="1.19" fill="rgb(135,135,135)" opacity="0.85"/>
<circle cx="340.8" cy="267.8" r="0.99" fill="rgb(154,154,154)" opacity="0.85"/>
<circle cx="341.6" cy="262.5" r="0.89" fill="rgb(151,151,151)" opacity="0.85"/>
<circle cx="342.1" cy="268.0" r="0.89" fill="rgb(194,194,194)" opacity="0.85"/>
<circle cx="345.0" cy="266.1" r="1.05" fill="rgb(151,151,151)" opacity="0.85"/>
<circle cx="342.5" cy="270.0" r="1.30" fill="rgb(179,179,179)" opacity="0.85"/>
<circle cx="345.7" cy="267.3" r="1.22" fill="rgb(149,149,149)" opacity="0.85"/>
<circle cx="343.0" cy="264.4" r="0.92" fill="rgb(157,157,157)" opacity="0.85"/>
<circle cx="347.0" cy="266.4" r="0.90" fill="rgb(194,194,194)" opacity="0.85"/>
<circle cx="346.3" cy="266.8" r="1.02" fill="rgb(142,142,142)" opacity="0.85"/>
<circle cx="341.4" cy="269.9" r="0.85" fill="rgb(120,120,120)" opacity="0.85"/>
<circle cx="337.3" cy="262.5" r="0.82" fill="rgb(147,147,147)" opacity="0.85"/>
<circle cx="341.0" cy="266.0" r="0.82" fill="rgb(152,152,152)" opacity="0.85"/>
<circle cx="341.1" cy="259.7" r="1.21" fill="rgb(121,121,121)" opacity="0.85"/>
<circle cx="338.2" cy="266.8" r="0.96" fill="rgb(199,199,199)" opacity="0.85"/>
<circle cx="343.6" cy="269.8" r="1.04" fill="rgb(190,190,190)" opacity="0.85"/>
<circle cx="336.6" cy="267.7" r="0.88" fill="rgb(190,190,190)" opacity="0.85"/>
<circle cx="336.3" cy="264.0" r="1.15" fill="rgb(170,170,170)" opacity="0.85"/>
<circle cx="338.7" cy="266.6" r="1.01" fill="rgb(159,159,159)" opacity="0.85"/>
<circle cx="347.5" cy="266.5" r="1.01" fill="rgb(165,165,165)" opacity="0.85"/>
<circle cx="327.6" cy="268.2" r="1.12" fill="rgb(166,166,166)" opacity="0.85"/>
<circle cx="319.4" cy="269.6" r="1.02" fill="rgb(120,120,120)" opacity="0.85"/>
<circle cx="323.5" cy="269.0" r="1.00" fill="rgb(131,131,131)" opacity="0.85"/>
<circle cx="325.4" cy="265.5" r="0.86" fill="rgb(140,140,140)" opacity="0.85"/>
<circle cx="324.5" cy="268.3" r="0.84" fill="rgb(170,170,170)" opacity="0.85"/>
<circle cx="319.8" cy="265.7" r="0.89" fill="rgb(184,184,184)" opacity="0.85"/>
<circle cx="321.0" cy="269.3" r="1.26" fill="rgb(141,141,141)" opacity="0.85"/>
<circle cx="325.7" cy="269.8" r="0.95" fill="rgb(145,145,145)" opacity="0.85"/>
<circle cx="323.1" cy="266.8" r="0.96" fill="rgb(181,181,181)" opacity="0.85"/>
<circle cx="318.7" cy="265.3" r="1.25" fill="rgb(131,131,131)" opacity="0.85"/>
<circle cx="318.4" cy="264.7" r="1.12" fill="rgb(140,140,140)" opacity="0.85"/>
<circle cx="325.3" cy="264.7" r="1.22" fill="rgb(198,198,198)" opacity="0.85"/>
<circle cx="323.6" cy="265.9" r="0.82" fill="rgb(147,147,147)" opacity="0.85"/>
<circle cx="324.6" cy="267.0" r="0.86" fill="rgb(165,165,165)" opacity="0.85"/>
<circle cx="322.5" cy="271.8" r="0.82" fill="rgb(144,144,144)" opacity="0.85"/>
<circle cx="317.6" cy="266.1" r="1.13" fill="rgb(124,124,124)" opacity="0.85"/>
<circle cx="320.7" cy="270.4" r="1.08" fill="rgb(178,178,178)" opacity="0.85"/>
<circle cx="320.1" cy="265.8" r="0.95" fill="rgb(173,173,173)" opacity="0.85"/>
<circle cx="322.4" cy="270.7" r="1.02" fill="rgb(167,167,167)" opacity="0.85"/>
<circle cx="321.6" cy="268.0" r="1.29" fill="rgb(199,199,199)" opacity="0.85"/>
<circle cx="318.5" cy="268.4" r="1.19" fill="rgb(199,199,199)" opacity="0.85"/>
<circle cx="319.9" cy="268.2" r="1.00" fill="rgb(180,180,180)" opacity="0.85"/>
<circle cx="386.3" cy="263.0" r="0.85" fill="rgb(166,166,166)" opacity="0.85"/>
<circle cx="380.3" cy="263.0" r="0.82" fill="rgb(125,125,125)" opacity="0.85"/>
<circle cx="386.9" cy="264.8" r="1.19" fill="rgb(160,160,160)" opacity="0.85"/>
<circle cx="382.4" cy="261.9" r="1.25" fill="rgb(184,184,184)" opacity="0.85"/>
<circle cx="381.1" cy="259.1" r="1.23" fill="rgb(123,123,123)" opacity="0.85"/>
<circle cx="387.9" cy="261.9" r="0.90" fill="rgb(134,134,134)" opacity="0.85"/>
<circle cx="387.1" cy="261.7" r="1.14" fill="rgb(141,141,141)" opacity="0.85"/>
<circle cx="383.2" cy="260.2" r="1.11" fill="rgb(164,164,164)" opacity="0.85"/>
<circle cx="383.6" cy="264.3" r="0.94" fill="rgb(198,198,198)" opacity="0.85"/>
<circle cx="384.4" cy="260.6" r="1.28" fill="rgb(184,184,184)" opacity="0.85"/>
<circle cx="379.8" cy="262.4" r="1.05" fill="rgb(198,198,198)" opacity="0.85"/>
<circle cx="383.2" cy="262.7" r="1.00" fill="rgb(143,143,143)" opacity="0.85"/>
<circle cx="343.6" cy="253.7" r="1.25" fill="rgb(161,161,161)" opacity="0.85"/>
<circle cx="346.7" cy="257.5" r="1.18" fill="rgb(134,134,134)" opacity="0.85"/>
<circle cx="348.5" cy="255.9" r="1.08" fill="rgb(177,177,177)" opacity="0.85"/>
<circle cx="341.7" cy="253.6" r="0.93" fill="rgb(133,133,133)" opacity="0.85"/>
<circle cx="341.4" cy="254.3" r="0.93" fill="rgb(167,167,167)" opacity="0.85"/>
<circle cx="348.0" cy="254.9" r="0.97" fill="rgb(166,166,166)" opacity="0.85"/>
<circle cx="346.7" cy="255.8" r="1.17" fill="rgb(198,198,198)" opacity="0.85"/>
<circle cx="348.5" cy="255.9" r="0.96" fill="rgb(152,152,152)" opacity="0.85"/>
<circle cx="338.7" cy="231.5" r="1.17" fill="rgb(160,160,160)" opacity="0.85"/>
<circle cx="336.0" cy="230.9" r="1.11" fill="rgb(157,157,157)" opacity="0.85"/>
<circle cx="334.0" cy="232.7" r="0.87" fill="rgb(126,126,126)" opacity="0.85"/>
<circle cx="336.3" cy="233.9" r="0.83" fill="rgb(122,122,122)" opacity="0.85"/>
<circle cx="334.5" cy="231.5" r="0.98" fill="rgb(186,186,186)" opacity="0.85"/>
<path d="M330,282.5 L337.2,282 L338,292 L330,292 Z" fill="#050505" filter="url(#glow)"/>
</g>
<rect x="315.80" y="216.40" width="74.60" height="79.20" fill="none" stroke="#b0b0b0" stroke-width="1" />
<rect x="256.00" y="215.00" width="21.80" height="20.10" fill="#fff" stroke="none" stroke-width="1" />
<text x="259.2" y="230.3" font-size="16" font-weight="bold" fill="#000" text-anchor="start" stroke="none"><tspan dy="0.00" font-size="16.00">(i)</tspan></text>
<text x="268.6" y="245.4" font-size="6.8" font-weight="bold" fill="#ffee22" text-anchor="start" text-decoration="underline" stroke="none"><tspan dy="0.00" font-size="6.80">At (%)</tspan></text>
<text x="268.6" y="254.2" font-size="6.8" font-weight="bold" fill="#ffee22" text-anchor="start" stroke="none"><tspan dy="0.00" font-size="6.80">C</tspan></text>
<text x="301" y="254.2" font-size="6.8" font-weight="bold" fill="#ffee22" text-anchor="end" stroke="none"><tspan dy="0.00" font-size="6.80">97.77</tspan></text>
<text x="268.6" y="263.45" font-size="6.8" font-weight="bold" fill="#ffee22" text-anchor="start" stroke="none"><tspan dy="0.00" font-size="6.80">O</tspan></text>
<text x="301" y="263.45" font-size="6.8" font-weight="bold" fill="#ffee22" text-anchor="end" stroke="none"><tspan dy="0.00" font-size="6.80">2.05</tspan></text>
<text x="268.6" y="272.7" font-size="6.8" font-weight="bold" fill="#ffee22" text-anchor="start" stroke="none"><tspan dy="0.00" font-size="6.80">Pt</tspan></text>
<text x="301" y="272.7" font-size="6.8" font-weight="bold" fill="#ffee22" text-anchor="end" stroke="none"><tspan dy="0.00" font-size="6.80">0.18</tspan></text>
<text x="368.5" y="284.4" font-size="9.8" font-weight="bold" fill="#fff" text-anchor="middle"  stroke="#fff" stroke-width="0.3" stroke-linejoin="round"><tspan dy="0.00" font-size="9.80">100 nm</tspan></text>
<rect x="357.90" y="288.50" width="29.60" height="3.40" fill="#000" stroke="#9a9a9a" stroke-width="0.8" />
<text x="281.2" y="321.8" font-size="13" font-weight="bold" fill="#fff" text-anchor="start" stroke="none"><tspan dy="0.00" font-size="13.00">Pt/G</tspan></text>
<text x="372.4" y="322.4" font-size="9.8" font-weight="bold" fill="#fff" text-anchor="middle"  stroke="#fff" stroke-width="0.3" stroke-linejoin="round"><tspan dy="0.00" font-size="9.80">50 µm</tspan></text>
<rect x="357.90" y="326.30" width="29.60" height="3.40" fill="#000" stroke="#8a8a8a" stroke-width="0.7" />
<rect x="392.50" y="216.40" width="133.70" height="116.40" fill="#999" stroke="none" stroke-width="1" />
<rect x="392.50" y="216.40" width="133.70" height="116.40" fill="#fff" stroke="none" stroke-width="0" filter="url(#nz2)"/>
<g clip-path="url(#cl2)">
<path d="M394,258 L407,261 L413,255 L410.5,266 L418,281 L406,270 L398,266 Z" fill="#080808" opacity="0.9" filter="url(#glow)"/>
<path d="M430,217 L442,217 L444,226 L449,236 L441,234 L434,227 Z" fill="#161616" opacity="0.8" filter="url(#glow)"/>
<path d="M418,217 L430,217 L436,232 L440,250 L434,238 Z" fill="#c8c8c8" opacity="0.5" filter="url(#b1)"/>
<path d="M447,240 L448.5,262 L446,290 L452,298" stroke="#2a2a2a" stroke-width="1.8" fill="none" opacity="0.7" filter="url(#glow)"/>
<path d="M450,297 C460,300 470,298 480,301 C490,303 498,300 505,301" stroke="#222" stroke-width="2" stroke-dasharray="3 4" fill="none" opacity="0.6" filter="url(#glow)"/>
<path d="M393,296 C420,292 440,304 470,306" stroke="#e8e8e8" stroke-width="2" fill="none" opacity="0.35" filter="url(#b1)"/>
<path d="M392.5,332.2 L526.2,332.2 M525.7,216.4 L525.7,332.8" stroke="#2a2a2a" stroke-width="1.2" fill="none" opacity="0.85"/>
</g>
<rect x="448.80" y="216.40" width="76.40" height="76.60" fill="#2b2b2b" stroke="none" stroke-width="1" />
<g clip-path="url(#cl2i)">
<polygon points="470.6,224.9 481.5,218.7 494.0,222.6 496.4,234.3 485.4,240.9 473.7,235.9" fill="rgb(156,156,156)" filter="url(#glow)"/>
<polygon points="506.5,229.6 514.4,220.3 524.5,222.6 525.3,237.5 514.4,239.8" fill="rgb(142,142,142)" filter="url(#glow)"/>
<polygon points="489.3,239.0 501.9,229.6 512.8,240.6 516.2,255.0 502.2,255.0 490.9,248.7" fill="rgb(162,162,162)" filter="url(#glow)"/>
<polygon points="467.1,245.3 473.7,238.7 485.0,250.0 481.8,259.7 470.6,259.7" fill="rgb(138,138,138)" filter="url(#glow)"/>
<polygon points="475.0,261.2 483.1,251.5 495.9,255.9 499.0,265.9 488.1,272.2 476.8,270.6" fill="rgb(166,166,166)" filter="url(#glow)"/>
<polygon points="448.7,232.8 461.2,230.9 467.8,240.6 461.2,251.8 448.7,250.3" fill="rgb(134,134,134)" filter="url(#glow)"/>
<polygon points="448.7,218.7 463.1,218.7 467.8,228.1 459.6,231.2 448.7,229.6" fill="rgb(120,120,120)" filter="url(#glow)"/>
<polygon points="451.0,273.7 462.8,270.3 475.3,276.5 478.7,287.5 464.3,293.0 451.0,289.8" fill="rgb(140,140,140)" filter="url(#glow)"/>
<polygon points="500.3,258.1 512.8,257.8 523.7,265.3 524.5,276.9 506.5,273.7" fill="rgb(141,141,141)" filter="url(#glow)"/>
<polygon points="450.3,255.0 464.3,253.1 467.8,265.6 458.1,269.0 450.3,265.9" fill="rgb(130,130,130)" filter="url(#glow)"/>
<polygon points="495.6,223.4 506.5,217.9 512.8,221.0 505.8,230.4 497.2,232.8" fill="rgb(128,128,128)" filter="url(#glow)"/>
<polygon points="515.9,240.6 525.3,239.0 525.3,260.9 517.5,254.7" fill="rgb(133,133,133)" filter="url(#glow)"/>
<polygon points="480.0,289.1 490.9,281.2 495.6,293.7 480.0,293.7" fill="rgb(112,112,112)" filter="url(#glow)"/>
<polygon points="509.7,276.5 524.5,278.1 524.5,293.7 497.2,293.7 498.7,282.8" fill="rgb(124,124,124)" filter="url(#glow)"/>
<polygon points="470.6,224.9 481.5,218.7 483.6,229.6" fill="#e0e0e0" opacity="0.38" filter="url(#glow)"/>
<polygon points="494.0,222.6 496.4,234.3 483.6,229.6" fill="#303030" opacity="0.45" filter="url(#glow)"/>
<polygon points="473.7,235.9 485.4,240.9 483.6,229.6" fill="#5a5a5a" opacity="0.35" filter="url(#glow)"/>
<line x1="483.6" y1="229.6" x2="470.6" y2="224.9" stroke="#d8d8d8" stroke-width="0.6" opacity="0.5"/>
<line x1="483.6" y1="229.6" x2="481.5" y2="218.7" stroke="#d8d8d8" stroke-width="0.6" opacity="0.5"/>
<line x1="483.6" y1="229.6" x2="494.0" y2="222.6" stroke="#d8d8d8" stroke-width="0.6" opacity="0.5"/>
<line x1="483.6" y1="229.6" x2="496.4" y2="234.3" stroke="#d8d8d8" stroke-width="0.6" opacity="0.5"/>
<line x1="483.6" y1="229.6" x2="485.4" y2="240.9" stroke="#d8d8d8" stroke-width="0.6" opacity="0.5"/>
<line x1="483.6" y1="229.6" x2="473.7" y2="235.9" stroke="#d8d8d8" stroke-width="0.6" opacity="0.5"/>
<polygon points="506.5,229.6 514.4,220.3 517.0,229.9" fill="#e0e0e0" opacity="0.38" filter="url(#glow)"/>
<polygon points="524.5,222.6 525.3,237.5 517.0,229.9" fill="#303030" opacity="0.45" filter="url(#glow)"/>
<polygon points="514.4,239.8 525.3,237.5 517.0,229.9" fill="#5a5a5a" opacity="0.35" filter="url(#glow)"/>
<line x1="517.0" y1="229.9" x2="506.5" y2="229.6" stroke="#d8d8d8" stroke-width="0.6" opacity="0.5"/>
<line x1="517.0" y1="229.9" x2="514.4" y2="220.3" stroke="#d8d8d8" stroke-width="0.6" opacity="0.5"/>
<line x1="517.0" y1="229.9" x2="524.5" y2="222.6" stroke="#d8d8d8" stroke-width="0.6" opacity="0.5"/>
<line x1="517.0" y1="229.9" x2="525.3" y2="237.5" stroke="#d8d8d8" stroke-width="0.6" opacity="0.5"/>
<line x1="517.0" y1="229.9" x2="514.4" y2="239.8" stroke="#d8d8d8" stroke-width="0.6" opacity="0.5"/>
<polygon points="489.3,239.0 501.9,229.6 502.2,244.6" fill="#e0e0e0" opacity="0.38" filter="url(#glow)"/>
<polygon points="512.8,240.6 516.2,255.0 502.2,244.6" fill="#303030" opacity="0.45" filter="url(#glow)"/>
<polygon points="490.9,248.7 502.2,255.0 502.2,244.6" fill="#5a5a5a" opacity="0.35" filter="url(#glow)"/>
<line x1="502.2" y1="244.6" x2="489.3" y2="239.0" stroke="#d8d8d8" stroke-width="0.6" opacity="0.5"/>
<line x1="502.2" y1="244.6" x2="501.9" y2="229.6" stroke="#d8d8d8" stroke-width="0.6" opacity="0.5"/>
<line x1="502.2" y1="244.6" x2="512.8" y2="240.6" stroke="#d8d8d8" stroke-width="0.6" opacity="0.5"/>
<line x1="502.2" y1="244.6" x2="516.2" y2="255.0" stroke="#d8d8d8" stroke-width="0.6" opacity="0.5"/>
<line x1="502.2" y1="244.6" x2="502.2" y2="255.0" stroke="#d8d8d8" stroke-width="0.6" opacity="0.5"/>
<line x1="502.2" y1="244.6" x2="490.9" y2="248.7" stroke="#d8d8d8" stroke-width="0.6" opacity="0.5"/>
<polygon points="467.1,245.3 473.7,238.7 475.6,250.7" fill="#e0e0e0" opacity="0.38" filter="url(#glow)"/>
<polygon points="485.0,250.0 481.8,259.7 475.6,250.7" fill="#303030" opacity="0.45" filter="url(#glow)"/>
<polygon points="470.6,259.7 481.8,259.7 475.6,250.7" fill="#5a5a5a" opacity="0.35" filter="url(#glow)"/>
<line x1="475.6" y1="250.7" x2="467.1" y2="245.3" stroke="#d8d8d8" stroke-width="0.6" opacity="0.5"/>
<line x1="475.6" y1="250.7" x2="473.7" y2="238.7" stroke="#d8d8d8" stroke-width="0.6" opacity="0.5"/>
<line x1="475.6" y1="250.7" x2="485.0" y2="250.0" stroke="#d8d8d8" stroke-width="0.6" opacity="0.5"/>
<line x1="475.6" y1="250.7" x2="481.8" y2="259.7" stroke="#d8d8d8" stroke-width="0.6" opacity="0.5"/>
<line x1="475.6" y1="250.7" x2="470.6" y2="259.7" stroke="#d8d8d8" stroke-width="0.6" opacity="0.5"/>
<polygon points="475.0,261.2 483.1,251.5 486.3,262.9" fill="#e0e0e0" opacity="0.38" filter="url(#glow)"/>
<polygon points="495.9,255.9 499.0,265.9 486.3,262.9" fill="#303030" opacity="0.45" filter="url(#glow)"/>
<polygon points="476.8,270.6 488.1,272.2 486.3,262.9" fill="#5a5a5a" opacity="0.35" filter="url(#glow)"/>
<line x1="486.3" y1="262.9" x2="475.0" y2="261.2" stroke="#d8d8d8" stroke-width="0.6" opacity="0.5"/>
<line x1="486.3" y1="262.9" x2="483.1" y2="251.5" stroke="#d8d8d8" stroke-width="0.6" opacity="0.5"/>
<line x1="486.3" y1="262.9" x2="495.9" y2="255.9" stroke="#d8d8d8" stroke-width="0.6" opacity="0.5"/>
<line x1="486.3" y1="262.9" x2="499.0" y2="265.9" stroke="#d8d8d8" stroke-width="0.6" opacity="0.5"/>
<line x1="486.3" y1="262.9" x2="488.1" y2="272.2" stroke="#d8d8d8" stroke-width="0.6" opacity="0.5"/>
<line x1="486.3" y1="262.9" x2="476.8" y2="270.6" stroke="#d8d8d8" stroke-width="0.6" opacity="0.5"/>
<polygon points="448.7,232.8 461.2,230.9 457.5,241.3" fill="#e0e0e0" opacity="0.38" filter="url(#glow)"/>
<polygon points="467.8,240.6 461.2,251.8 457.5,241.3" fill="#303030" opacity="0.45" filter="url(#glow)"/>
<polygon points="448.7,250.3 461.2,251.8 457.5,241.3" fill="#5a5a5a" opacity="0.35" filter="url(#glow)"/>
<line x1="457.5" y1="241.3" x2="448.7" y2="232.8" stroke="#d8d8d8" stroke-width="0.6" opacity="0.5"/>
<line x1="457.5" y1="241.3" x2="461.2" y2="230.9" stroke="#d8d8d8" stroke-width="0.6" opacity="0.5"/>
<line x1="457.5" y1="241.3" x2="467.8" y2="240.6" stroke="#d8d8d8" stroke-width="0.6" opacity="0.5"/>
<line x1="457.5" y1="241.3" x2="461.2" y2="251.8" stroke="#d8d8d8" stroke-width="0.6" opacity="0.5"/>
<line x1="457.5" y1="241.3" x2="448.7" y2="250.3" stroke="#d8d8d8" stroke-width="0.6" opacity="0.5"/>
<polygon points="448.7,218.7 463.1,218.7 457.6,225.3" fill="#e0e0e0" opacity="0.38" filter="url(#glow)"/>
<polygon points="467.8,228.1 459.6,231.2 457.6,225.3" fill="#303030" opacity="0.45" filter="url(#glow)"/>
<polygon points="448.7,229.6 459.6,231.2 457.6,225.3" fill="#5a5a5a" opacity="0.35" filter="url(#glow)"/>
<line x1="457.6" y1="225.3" x2="448.7" y2="218.7" stroke="#d8d8d8" stroke-width="0.6" opacity="0.5"/>
<line x1="457.6" y1="225.3" x2="463.1" y2="218.7" stroke="#d8d8d8" stroke-width="0.6" opacity="0.5"/>
<line x1="457.6" y1="225.3" x2="467.8" y2="228.1" stroke="#d8d8d8" stroke-width="0.6" opacity="0.5"/>
<line x1="457.6" y1="225.3" x2="459.6" y2="231.2" stroke="#d8d8d8" stroke-width="0.6" opacity="0.5"/>
<line x1="457.6" y1="225.3" x2="448.7" y2="229.6" stroke="#d8d8d8" stroke-width="0.6" opacity="0.5"/>
<polygon points="451.0,273.7 462.8,270.3 463.9,281.8" fill="#e0e0e0" opacity="0.38" filter="url(#glow)"/>
<polygon points="475.3,276.5 478.7,287.5 463.9,281.8" fill="#303030" opacity="0.45" filter="url(#glow)"/>
<polygon points="451.0,289.8 464.3,293.0 463.9,281.8" fill="#5a5a5a" opacity="0.35" filter="url(#glow)"/>
<line x1="463.9" y1="281.8" x2="451.0" y2="273.7" stroke="#d8d8d8" stroke-width="0.6" opacity="0.5"/>
<line x1="463.9" y1="281.8" x2="462.8" y2="270.3" stroke="#d8d8d8" stroke-width="0.6" opacity="0.5"/>
<line x1="463.9" y1="281.8" x2="475.3" y2="276.5" stroke="#d8d8d8" stroke-width="0.6" opacity="0.5"/>
<line x1="463.9" y1="281.8" x2="478.7" y2="287.5" stroke="#d8d8d8" stroke-width="0.6" opacity="0.5"/>
<line x1="463.9" y1="281.8" x2="464.3" y2="293.0" stroke="#d8d8d8" stroke-width="0.6" opacity="0.5"/>
<line x1="463.9" y1="281.8" x2="451.0" y2="289.8" stroke="#d8d8d8" stroke-width="0.6" opacity="0.5"/>
<polygon points="500.3,258.1 512.8,257.8 513.6,266.4" fill="#e0e0e0" opacity="0.38" filter="url(#glow)"/>
<polygon points="523.7,265.3 524.5,276.9 513.6,266.4" fill="#303030" opacity="0.45" filter="url(#glow)"/>
<polygon points="506.5,273.7 524.5,276.9 513.6,266.4" fill="#5a5a5a" opacity="0.35" filter="url(#glow)"/>
<line x1="513.6" y1="266.4" x2="500.3" y2="258.1" stroke="#d8d8d8" stroke-width="0.6" opacity="0.5"/>
<line x1="513.6" y1="266.4" x2="512.8" y2="257.8" stroke="#d8d8d8" stroke-width="0.6" opacity="0.5"/>
<line x1="513.6" y1="266.4" x2="523.7" y2="265.3" stroke="#d8d8d8" stroke-width="0.6" opacity="0.5"/>
<line x1="513.6" y1="266.4" x2="524.5" y2="276.9" stroke="#d8d8d8" stroke-width="0.6" opacity="0.5"/>
<line x1="513.6" y1="266.4" x2="506.5" y2="273.7" stroke="#d8d8d8" stroke-width="0.6" opacity="0.5"/>
<polygon points="450.3,255.0 464.3,253.1 458.1,261.7" fill="#e0e0e0" opacity="0.38" filter="url(#glow)"/>
<polygon points="467.8,265.6 458.1,269.0 458.1,261.7" fill="#303030" opacity="0.45" filter="url(#glow)"/>
<polygon points="450.3,265.9 458.1,269.0 458.1,261.7" fill="#5a5a5a" opacity="0.35" filter="url(#glow)"/>
<line x1="458.1" y1="261.7" x2="450.3" y2="255.0" stroke="#d8d8d8" stroke-width="0.6" opacity="0.5"/>
<line x1="458.1" y1="261.7" x2="464.3" y2="253.1" stroke="#d8d8d8" stroke-width="0.6" opacity="0.5"/>
<line x1="458.1" y1="261.7" x2="467.8" y2="265.6" stroke="#d8d8d8" stroke-width="0.6" opacity="0.5"/>
<line x1="458.1" y1="261.7" x2="458.1" y2="269.0" stroke="#d8d8d8" stroke-width="0.6" opacity="0.5"/>
<line x1="458.1" y1="261.7" x2="450.3" y2="265.9" stroke="#d8d8d8" stroke-width="0.6" opacity="0.5"/>
<polygon points="495.6,223.4 506.5,217.9 503.6,225.1" fill="#e0e0e0" opacity="0.38" filter="url(#glow)"/>
<polygon points="512.8,221.0 505.8,230.4 503.6,225.1" fill="#303030" opacity="0.45" filter="url(#glow)"/>
<polygon points="497.2,232.8 505.8,230.4 503.6,225.1" fill="#5a5a5a" opacity="0.35" filter="url(#glow)"/>
<line x1="503.6" y1="225.1" x2="495.6" y2="223.4" stroke="#d8d8d8" stroke-width="0.6" opacity="0.5"/>
<line x1="503.6" y1="225.1" x2="506.5" y2="217.9" stroke="#d8d8d8" stroke-width="0.6" opacity="0.5"/>
<line x1="503.6" y1="225.1" x2="512.8" y2="221.0" stroke="#d8d8d8" stroke-width="0.6" opacity="0.5"/>
<line x1="503.6" y1="225.1" x2="505.8" y2="230.4" stroke="#d8d8d8" stroke-width="0.6" opacity="0.5"/>
<line x1="503.6" y1="225.1" x2="497.2" y2="232.8" stroke="#d8d8d8" stroke-width="0.6" opacity="0.5"/>
<polygon points="515.9,240.6 525.3,239.0 521.0,248.8" fill="#e0e0e0" opacity="0.38" filter="url(#glow)"/>
<polygon points="525.3,260.9 517.5,254.7 521.0,248.8" fill="#303030" opacity="0.45" filter="url(#glow)"/>
<polygon points="517.5,254.7 525.3,260.9 521.0,248.8" fill="#5a5a5a" opacity="0.35" filter="url(#glow)"/>
<line x1="521.0" y1="248.8" x2="515.9" y2="240.6" stroke="#d8d8d8" stroke-width="0.6" opacity="0.5"/>
<line x1="521.0" y1="248.8" x2="525.3" y2="239.0" stroke="#d8d8d8" stroke-width="0.6" opacity="0.5"/>
<line x1="521.0" y1="248.8" x2="525.3" y2="260.9" stroke="#d8d8d8" stroke-width="0.6" opacity="0.5"/>
<line x1="521.0" y1="248.8" x2="517.5" y2="254.7" stroke="#d8d8d8" stroke-width="0.6" opacity="0.5"/>
<polygon points="481.5,269.0 490.9,268.7 492.5,279.7 483.1,280.5" fill="#181818" opacity="0.8" filter="url(#b1)"/>
</g>
<rect x="448.80" y="216.40" width="76.40" height="76.60" fill="#000" stroke="none" stroke-width="0" filter="url(#nz2b)"/>
<rect x="448.80" y="216.40" width="76.40" height="76.60" fill="none" stroke="#c4c4c4" stroke-width="1" />
<rect x="392.50" y="215.00" width="22.70" height="20.60" fill="#fff" stroke="none" stroke-width="1" />
<text x="393.8" y="230.5" font-size="16" font-weight="bold" fill="#000" text-anchor="start" stroke="none"><tspan dy="0.00" font-size="16.00">(ii)</tspan></text>
<text x="403.5" y="245.4" font-size="6.8" font-weight="bold" fill="#ffee22" text-anchor="start" text-decoration="underline" stroke="none"><tspan dy="0.00" font-size="6.80">At (%)</tspan></text>
<text x="403.5" y="254.8" font-size="6.8" font-weight="bold" fill="#ffee22" text-anchor="start" stroke="none"><tspan dy="0.00" font-size="6.80">O</tspan></text>
<text x="436.8" y="254.8" font-size="6.8" font-weight="bold" fill="#ffee22" text-anchor="end" stroke="none"><tspan dy="0.00" font-size="6.80">20.05</tspan></text>
<text x="403.5" y="264.6" font-size="6.8" font-weight="bold" fill="#ffee22" text-anchor="start" stroke="none"><tspan dy="0.00" font-size="6.80">Cu</tspan></text>
<text x="436.8" y="264.6" font-size="6.8" font-weight="bold" fill="#ffee22" text-anchor="end" stroke="none"><tspan dy="0.00" font-size="6.80">72.61</tspan></text>
<text x="403.5" y="274.40000000000003" font-size="6.8" font-weight="bold" fill="#ffee22" text-anchor="start" stroke="none"><tspan dy="0.00" font-size="6.80">Ni</tspan></text>
<text x="436.8" y="274.40000000000003" font-size="6.8" font-weight="bold" fill="#ffee22" text-anchor="end" stroke="none"><tspan dy="0.00" font-size="6.80">6.63</tspan></text>
<text x="403.5" y="284.2" font-size="6.8" font-weight="bold" fill="#ffee22" text-anchor="start" stroke="none"><tspan dy="0.00" font-size="6.80">Pt</tspan></text>
<text x="436.8" y="284.2" font-size="6.8" font-weight="bold" fill="#ffee22" text-anchor="end" stroke="none"><tspan dy="0.00" font-size="6.80">0.71</tspan></text>
<text x="505" y="281.6" font-size="9.6" font-weight="bold" fill="#fff" text-anchor="middle"  stroke="#fff" stroke-width="0.3" stroke-linejoin="round"><tspan dy="0.00" font-size="9.60">1 µm</tspan></text>
<rect x="492.70" y="287.00" width="29.60" height="3.40" fill="#000" stroke="#8a8a8a" stroke-width="0.7" />
<text x="403.3" y="320.3" font-size="13.2" font-weight="bold" fill="#fff" text-anchor="start" stroke="none"><tspan dy="0.00" font-size="13.20">PtCu/G</tspan></text>
<text x="505" y="321" font-size="9.8" font-weight="bold" fill="#fff" text-anchor="middle"  stroke="#fff" stroke-width="0.3" stroke-linejoin="round"><tspan dy="0.00" font-size="9.80">50 µm</tspan></text>
<rect x="492.70" y="325.00" width="30.00" height="3.40" fill="#000" stroke="#8a8a8a" stroke-width="0.7" />
</g>
<g id="pe">
<text x="9.5" y="379.3" font-size="27" font-weight="bold" fill="#000" text-anchor="start"  stroke="#000" stroke-width="0.3" stroke-linejoin="round"><tspan dy="0.00" font-size="27.00">e</tspan></text>
<rect x="41.40" y="461.15" width="17.60" height="44.85" fill="#ff2a1c" stroke="#000" stroke-width="1.1" />
<line x1="50.20" y1="456.27" x2="50.20" y2="466.02" stroke="#000" stroke-width="1" />
<line x1="48.40" y1="456.27" x2="52.00" y2="456.27" stroke="#000" stroke-width="1" />
<line x1="48.40" y1="466.02" x2="52.00" y2="466.02" stroke="#000" stroke-width="1" />
<rect x="64.05" y="428.98" width="17.60" height="77.02" fill="#ff2a1c" stroke="#000" stroke-width="1.1" />
<line x1="72.85" y1="424.43" x2="72.85" y2="433.52" stroke="#000" stroke-width="1" />
<line x1="71.05" y1="424.43" x2="74.65" y2="424.43" stroke="#000" stroke-width="1" />
<line x1="71.05" y1="433.52" x2="74.65" y2="433.52" stroke="#000" stroke-width="1" />
<rect x="86.70" y="398.75" width="17.60" height="107.25" fill="#ff2a1c" stroke="#000" stroke-width="1.1" />
<line x1="95.50" y1="387.70" x2="95.50" y2="409.80" stroke="#000" stroke-width="1" />
<line x1="93.70" y1="387.70" x2="97.30" y2="387.70" stroke="#000" stroke-width="1" />
<line x1="93.70" y1="409.80" x2="97.30" y2="409.80" stroke="#000" stroke-width="1" />
<rect x="109.35" y="417.60" width="17.60" height="88.40" fill="#ff2a1c" stroke="#000" stroke-width="1.1" />
<line x1="118.15" y1="414.35" x2="118.15" y2="420.85" stroke="#000" stroke-width="1" />
<line x1="116.35" y1="414.35" x2="119.95" y2="414.35" stroke="#000" stroke-width="1" />
<line x1="116.35" y1="420.85" x2="119.95" y2="420.85" stroke="#000" stroke-width="1" />
<rect x="132.00" y="439.05" width="17.60" height="66.95" fill="#ff2a1c" stroke="#000" stroke-width="1.1" />
<line x1="140.80" y1="434.50" x2="140.80" y2="443.60" stroke="#000" stroke-width="1" />
<line x1="139.00" y1="434.50" x2="142.60" y2="434.50" stroke="#000" stroke-width="1" />
<line x1="139.00" y1="443.60" x2="142.60" y2="443.60" stroke="#000" stroke-width="1" />
<rect x="154.65" y="500.80" width="17.60" height="5.20" fill="#ff2a1c" stroke="#000" stroke-width="1.1" />
<line x1="163.45" y1="499.18" x2="163.45" y2="502.43" stroke="#000" stroke-width="1" />
<line x1="161.65" y1="499.18" x2="165.25" y2="499.18" stroke="#000" stroke-width="1" />
<line x1="161.65" y1="502.43" x2="165.25" y2="502.43" stroke="#000" stroke-width="1" />
<rect x="38.50" y="376.80" width="136.90" height="129.20" fill="none" stroke="#000" stroke-width="1.2" />
<line x1="38.50" y1="480.00" x2="43.00" y2="480.00" stroke="#000" stroke-width="1" />
<line x1="38.50" y1="454.00" x2="43.00" y2="454.00" stroke="#000" stroke-width="1" />
<line x1="38.50" y1="428.00" x2="43.00" y2="428.00" stroke="#000" stroke-width="1" />
<line x1="38.50" y1="402.00" x2="43.00" y2="402.00" stroke="#000" stroke-width="1" />
<line x1="38.50" y1="493.00" x2="41.30" y2="493.00" stroke="#000" stroke-width="1" />
<line x1="38.50" y1="467.00" x2="41.30" y2="467.00" stroke="#000" stroke-width="1" />
<line x1="38.50" y1="441.00" x2="41.30" y2="441.00" stroke="#000" stroke-width="1" />
<line x1="38.50" y1="415.00" x2="41.30" y2="415.00" stroke="#000" stroke-width="1" />
<line x1="38.50" y1="389.00" x2="41.30" y2="389.00" stroke="#000" stroke-width="1" />
<text x="36.6" y="509.7" font-size="10.4" font-weight="normal" fill="#000" text-anchor="end" textLength="5.38" lengthAdjust="spacingAndGlyphs" stroke="#000" stroke-width="0.15"><tspan dy="0.00" font-size="10.40">0</tspan></text>
<text x="36.6" y="483.7" font-size="10.4" font-weight="normal" fill="#000" text-anchor="end" textLength="5.38" lengthAdjust="spacingAndGlyphs" stroke="#000" stroke-width="0.15"><tspan dy="0.00" font-size="10.40">4</tspan></text>
<text x="36.6" y="457.7" font-size="10.4" font-weight="normal" fill="#000" text-anchor="end" textLength="5.38" lengthAdjust="spacingAndGlyphs" stroke="#000" stroke-width="0.15"><tspan dy="0.00" font-size="10.40">8</tspan></text>
<text x="36.6" y="431.7" font-size="10.4" font-weight="normal" fill="#000" text-anchor="end" textLength="10.76" lengthAdjust="spacingAndGlyphs" stroke="#000" stroke-width="0.15"><tspan dy="0.00" font-size="10.40">12</tspan></text>
<text x="36.6" y="405.7" font-size="10.4" font-weight="normal" fill="#000" text-anchor="end" textLength="10.76" lengthAdjust="spacingAndGlyphs" stroke="#000" stroke-width="0.15"><tspan dy="0.00" font-size="10.40">16</tspan></text>
<line x1="50.20" y1="506.00" x2="50.20" y2="503.00" stroke="#000" stroke-width="1" />
<line x1="72.85" y1="506.00" x2="72.85" y2="503.00" stroke="#000" stroke-width="1" />
<line x1="95.50" y1="506.00" x2="95.50" y2="503.00" stroke="#000" stroke-width="1" />
<line x1="118.15" y1="506.00" x2="118.15" y2="503.00" stroke="#000" stroke-width="1" />
<line x1="140.80" y1="506.00" x2="140.80" y2="503.00" stroke="#000" stroke-width="1" />
<line x1="163.45" y1="506.00" x2="163.45" y2="503.00" stroke="#000" stroke-width="1" />
<text x="55.0" y="515.8" font-size="10.3" font-weight="normal" fill="#000" text-anchor="end" transform="rotate(-45 55.0 515.8)" letter-spacing="-0.4" stroke="#000" stroke-width="0.15"><tspan dy="0.00" font-size="10.30">Pt</tspan></text>
<text x="80.24999999999999" y="513.8" font-size="10.3" font-weight="normal" fill="#000" text-anchor="end" transform="rotate(-45 80.24999999999999 513.8)" letter-spacing="-0.75" stroke="#000" stroke-width="0.15"><tspan dy="0.00" font-size="10.30">Pt</tspan><tspan dy="2.58" font-size="5.67">1.5</tspan><tspan dy="-2.58" font-size="10.30">Cu</tspan><tspan dy="2.58" font-size="5.67">2</tspan></text>
<text x="100.3" y="515.8" font-size="10.3" font-weight="normal" fill="#000" text-anchor="end" transform="rotate(-45 100.3 515.8)" letter-spacing="-0.75" stroke="#000" stroke-width="0.15"><tspan dy="0.00" font-size="10.30">Pt</tspan><tspan dy="2.58" font-size="5.67">6</tspan><tspan dy="-2.58" font-size="10.30">Cu</tspan></text>
<text x="125.54999999999998" y="513.8" font-size="10.3" font-weight="normal" fill="#000" text-anchor="end" transform="rotate(-45 125.54999999999998 513.8)" letter-spacing="-0.75" stroke="#000" stroke-width="0.15"><tspan dy="0.00" font-size="10.30">Pt</tspan><tspan dy="2.58" font-size="5.67">1.1</tspan><tspan dy="-2.58" font-size="10.30">Cu</tspan><tspan dy="2.58" font-size="5.67">2</tspan></text>
<text x="145.60000000000002" y="515.8" font-size="10.3" font-weight="normal" fill="#000" text-anchor="end" transform="rotate(-45 145.60000000000002 515.8)" letter-spacing="-0.75" stroke="#000" stroke-width="0.15"><tspan dy="0.00" font-size="10.30">Pt</tspan><tspan dy="2.58" font-size="5.67">5</tspan><tspan dy="-2.58" font-size="10.30">Cu</tspan></text>
<text x="168.25" y="515.8" font-size="10.3" font-weight="normal" fill="#000" text-anchor="end" transform="rotate(-45 168.25 515.8)" letter-spacing="-0.4" stroke="#000" stroke-width="0.15"><tspan dy="0.00" font-size="10.30">Cu</tspan></text>
<text x="18.3" y="450.3" font-size="13" font-weight="normal" fill="#000" text-anchor="middle" transform="rotate(-90 18.3 450.3)" textLength="109" lengthAdjust="spacingAndGlyphs" stroke="#000" stroke-width="0.15"><tspan dy="0.00" font-size="13.00">r</tspan><tspan dy="3.25" font-size="8.84">NH3</tspan><tspan dy="-3.25" font-size="13.00">(µg h</tspan><tspan dy="-4.94" font-size="8.84">−1</tspan><tspan dy="4.94" font-size="13.00"> mg</tspan><tspan dy="3.25" font-size="8.84">cat</tspan><tspan dy="-8.19" font-size="8.84">−1</tspan><tspan dy="4.94" font-size="13.00">)</tspan></text>
</g>
<g id="pf">
<text x="187.5" y="378.6" font-size="27" font-weight="bold" fill="#000" text-anchor="start"  stroke="#000" stroke-width="0.3" stroke-linejoin="round"><tspan dy="0.00" font-size="27.00">f</tspan></text>
<clipPath id="clf"><rect x="213.8" y="377" width="133.89999999999998" height="128.7"/></clipPath>
<g clip-path="url(#clf)">
<polyline points="213.80,486.17 215.14,485.90 216.48,485.61 217.82,485.29 219.16,484.94 220.50,484.56 221.83,484.14 223.17,483.69 224.51,483.21 225.85,482.69 227.19,482.13 228.53,481.54 229.87,480.91 231.21,480.24 232.55,479.53 233.89,478.78 235.22,478.00 236.56,477.18 237.90,476.32 239.24,475.42 240.58,474.49 241.92,473.53 243.26,472.53 244.60,471.51 245.94,470.46 247.28,469.39 248.61,468.30 249.95,467.20 251.29,466.08 252.63,464.95 253.97,463.82 255.31,462.69 256.65,461.56 257.99,460.45 259.33,459.35 260.67,458.27 262.00,457.22 263.34,456.19 264.68,455.21 266.02,454.26 267.36,453.37 268.70,452.52 270.04,451.73 271.38,451.00 272.72,450.34 274.06,449.74 275.39,449.22 276.73,448.78 278.07,448.41 279.41,448.12 280.75,447.92 282.09,447.81 283.43,447.78 284.77,447.83 286.11,448.01 287.44,448.31 288.78,448.72 290.12,449.25 291.46,449.90 292.80,450.65 294.14,451.50 295.48,452.44 296.82,453.47 298.16,454.59 299.50,455.78 300.84,457.03 302.17,458.33 303.51,459.69 304.85,461.08 306.19,462.51 307.53,463.95 308.87,465.41 310.21,466.87 311.55,468.33 312.89,469.78 314.23,471.21 315.56,472.62 316.90,473.99 318.24,475.34 319.58,476.64 320.92,477.90 322.26,479.12 323.60,480.29 324.94,481.40 326.28,482.47 327.62,483.48 328.95,484.43 330.29,485.33 331.63,486.18 332.97,486.97 334.31,487.72 335.65,488.41 336.99,489.05 338.33,489.65 339.67,490.20 341.00,490.71 342.34,491.18 343.68,491.61 345.02,492.01 346.36,492.37 347.70,492.70" fill="none" stroke="#000" stroke-width="1.5" stroke-linejoin="round"/>
<polyline points="213.80,481.27 215.14,480.92 216.48,480.55 217.82,480.14 219.16,479.69 220.50,479.20 221.83,478.68 223.17,478.11 224.51,477.50 225.85,476.85 227.19,476.16 228.53,475.42 229.87,474.63 231.21,473.79 232.55,472.91 233.89,471.99 235.22,471.01 236.56,469.99 237.90,468.93 239.24,467.82 240.58,466.67 241.92,465.48 243.26,464.25 244.60,462.99 245.94,461.70 247.28,460.38 248.61,459.04 249.95,457.67 251.29,456.29 252.63,454.91 253.97,453.51 255.31,452.12 256.65,450.73 257.99,449.36 259.33,448.00 260.67,446.67 262.00,445.38 263.34,444.11 264.68,442.90 266.02,441.73 267.36,440.62 268.70,439.57 270.04,438.59 271.38,437.69 272.72,436.86 274.06,436.12 275.39,435.46 276.73,434.90 278.07,434.43 279.41,434.07 280.75,433.80 282.09,433.64 283.43,433.58 284.77,433.63 286.11,433.82 287.44,434.16 288.78,434.64 290.12,435.26 291.46,436.02 292.80,436.90 294.14,437.91 295.48,439.03 296.82,440.26 298.16,441.59 299.50,443.01 300.84,444.51 302.17,446.07 303.51,447.69 304.85,449.36 306.19,451.06 307.53,452.79 308.87,454.53 310.21,456.28 311.55,458.03 312.89,459.77 314.23,461.48 315.56,463.16 316.90,464.81 318.24,466.42 319.58,467.98 320.92,469.49 322.26,470.94 323.60,472.33 324.94,473.66 326.28,474.93 327.62,476.13 328.95,477.27 330.29,478.34 331.63,479.34 332.97,480.28 334.31,481.16 335.65,481.98 336.99,482.74 338.33,483.44 339.67,484.09 341.00,484.68 342.34,485.23 343.68,485.73 345.02,486.19 346.36,486.60 347.70,486.98" fill="none" stroke="#ff2020" stroke-width="1.5" stroke-linejoin="round"/>
<polyline points="213.80,480.13 215.14,479.71 216.48,479.25 217.82,478.76 219.16,478.22 220.50,477.64 221.83,477.01 223.17,476.33 224.51,475.61 225.85,474.83 227.19,474.00 228.53,473.12 229.87,472.19 231.21,471.20 232.55,470.15 233.89,469.06 235.22,467.90 236.56,466.70 237.90,465.44 239.24,464.13 240.58,462.77 241.92,461.37 243.26,459.92 244.60,458.43 245.94,456.90 247.28,455.35 248.61,453.76 249.95,452.15 251.29,450.53 252.63,448.89 253.97,447.24 255.31,445.60 256.65,443.97 257.99,442.35 259.33,440.75 260.67,439.18 262.00,437.65 263.34,436.16 264.68,434.72 266.02,433.34 267.36,432.03 268.70,430.79 270.04,429.63 271.38,428.56 272.72,427.57 274.06,426.69 275.39,425.91 276.73,425.24 278.07,424.68 279.41,424.24 280.75,423.91 282.09,423.70 283.43,423.62 284.77,423.66 286.11,423.87 287.44,424.25 288.78,424.80 290.12,425.51 291.46,426.38 292.80,427.41 294.14,428.57 295.48,429.87 296.82,431.29 298.16,432.83 299.50,434.47 300.84,436.21 302.17,438.02 303.51,439.90 304.85,441.83 306.19,443.81 307.53,445.82 308.87,447.84 310.21,449.87 311.55,451.90 312.89,453.91 314.23,455.90 315.56,457.86 316.90,459.77 318.24,461.63 319.58,463.44 320.92,465.19 322.26,466.87 323.60,468.49 324.94,470.03 326.28,471.49 327.62,472.88 328.95,474.20 330.29,475.43 331.63,476.59 332.97,477.68 334.31,478.69 335.65,479.63 336.99,480.51 338.33,481.31 339.67,482.05 341.00,482.73 342.34,483.36 343.68,483.93 345.02,484.45 346.36,484.92 347.70,485.35" fill="none" stroke="#10a070" stroke-width="1.5" stroke-linejoin="round"/>
<polyline points="213.80,475.55 215.14,475.09 216.48,474.58 217.82,474.04 219.16,473.44 220.50,472.79 221.83,472.10 223.17,471.35 224.51,470.55 225.85,469.69 227.19,468.77 228.53,467.80 229.87,466.77 231.21,465.67 232.55,464.52 233.89,463.31 235.22,462.03 236.56,460.70 237.90,459.31 239.24,457.87 240.58,456.37 241.92,454.82 243.26,453.23 244.60,451.58 245.94,449.90 247.28,448.18 248.61,446.44 249.95,444.66 251.29,442.87 252.63,441.07 253.97,439.25 255.31,437.44 256.65,435.64 257.99,433.85 259.33,432.09 260.67,430.36 262.00,428.67 263.34,427.03 264.68,425.44 266.02,423.92 267.36,422.48 268.70,421.11 270.04,419.83 271.38,418.64 272.72,417.56 274.06,416.58 275.39,415.72 276.73,414.98 278.07,414.36 279.41,413.86 280.75,413.50 282.09,413.27 283.43,413.17 284.77,413.21 286.11,413.44 287.44,413.85 288.78,414.45 290.12,415.23 291.46,416.18 292.80,417.30 294.14,418.57 295.48,419.99 296.82,421.55 298.16,423.24 299.50,425.04 300.84,426.94 302.17,428.93 303.51,430.99 304.85,433.11 306.19,435.28 307.53,437.48 308.87,439.70 310.21,441.93 311.55,444.15 312.89,446.36 314.23,448.54 315.56,450.68 316.90,452.78 318.24,454.82 319.58,456.80 320.92,458.72 322.26,460.56 323.60,462.33 324.94,464.02 326.28,465.63 327.62,467.15 328.95,468.59 330.29,469.94 331.63,471.22 332.97,472.40 334.31,473.51 335.65,474.54 336.99,475.49 338.33,476.37 339.67,477.18 341.00,477.93 342.34,478.61 343.68,479.23 345.02,479.80 346.36,480.31 347.70,480.78" fill="none" stroke="#9060c8" stroke-width="1.5" stroke-linejoin="round"/>
<polyline points="213.80,471.96 215.14,471.39 216.48,470.76 217.82,470.08 219.16,469.34 220.50,468.54 221.83,467.67 223.17,466.74 224.51,465.74 225.85,464.67 227.19,463.52 228.53,462.31 229.87,461.02 231.21,459.65 232.55,458.21 233.89,456.69 235.22,455.10 236.56,453.43 237.90,451.69 239.24,449.88 240.58,448.00 241.92,446.06 243.26,444.06 244.60,442.00 245.94,439.89 247.28,437.74 248.61,435.54 249.95,433.32 251.29,431.07 252.63,428.80 253.97,426.53 255.31,424.26 256.65,422.00 257.99,419.76 259.33,417.55 260.67,415.38 262.00,413.26 263.34,411.20 264.68,409.21 266.02,407.31 267.36,405.49 268.70,403.78 270.04,402.18 271.38,400.70 272.72,399.34 274.06,398.12 275.39,397.05 276.73,396.12 278.07,395.35 279.41,394.74 280.75,394.29 282.09,394.01 283.43,393.90 284.77,393.96 286.11,394.26 287.44,394.79 288.78,395.55 290.12,396.54 291.46,397.75 292.80,399.17 294.14,400.79 295.48,402.59 296.82,404.57 298.16,406.71 299.50,408.99 300.84,411.39 302.17,413.91 303.51,416.52 304.85,419.20 306.19,421.95 307.53,424.73 308.87,427.54 310.21,430.36 311.55,433.17 312.89,435.96 314.23,438.72 315.56,441.43 316.90,444.09 318.24,446.68 319.58,449.19 320.92,451.61 322.26,453.95 323.60,456.19 324.94,458.33 326.28,460.36 327.62,462.30 328.95,464.12 330.29,465.84 331.63,467.45 332.97,468.96 334.31,470.37 335.65,471.67 336.99,472.89 338.33,474.01 339.67,475.04 341.00,475.99 342.34,476.86 343.68,477.65 345.02,478.38 346.36,479.04 347.70,479.64" fill="none" stroke="#3050c8" stroke-width="1.5" stroke-linejoin="round"/>
</g>
<rect x="213.80" y="377.00" width="133.90" height="128.70" fill="none" stroke="#000" stroke-width="1.2" />
<line x1="213.80" y1="482.09" x2="218.30" y2="482.09" stroke="#000" stroke-width="1" />
<line x1="213.80" y1="457.59" x2="218.30" y2="457.59" stroke="#000" stroke-width="1" />
<line x1="213.80" y1="433.10" x2="218.30" y2="433.10" stroke="#000" stroke-width="1" />
<line x1="213.80" y1="408.60" x2="218.30" y2="408.60" stroke="#000" stroke-width="1" />
<line x1="213.80" y1="384.11" x2="218.30" y2="384.11" stroke="#000" stroke-width="1" />
<line x1="213.80" y1="494.33" x2="216.60" y2="494.33" stroke="#000" stroke-width="1" />
<line x1="213.80" y1="469.84" x2="216.60" y2="469.84" stroke="#000" stroke-width="1" />
<line x1="213.80" y1="445.34" x2="216.60" y2="445.34" stroke="#000" stroke-width="1" />
<line x1="213.80" y1="420.85" x2="216.60" y2="420.85" stroke="#000" stroke-width="1" />
<line x1="213.80" y1="396.35" x2="216.60" y2="396.35" stroke="#000" stroke-width="1" />
<text x="209.8" y="484.785" font-size="9.8" font-weight="normal" fill="#000" text-anchor="end" textLength="22" lengthAdjust="spacingAndGlyphs" stroke="#000" stroke-width="0.15"><tspan dy="0.00" font-size="9.80">0.015</tspan></text>
<text x="209.8" y="460.29" font-size="9.8" font-weight="normal" fill="#000" text-anchor="end" textLength="22" lengthAdjust="spacingAndGlyphs" stroke="#000" stroke-width="0.15"><tspan dy="0.00" font-size="9.80">0.030</tspan></text>
<text x="209.8" y="435.795" font-size="9.8" font-weight="normal" fill="#000" text-anchor="end" textLength="22" lengthAdjust="spacingAndGlyphs" stroke="#000" stroke-width="0.15"><tspan dy="0.00" font-size="9.80">0.045</tspan></text>
<text x="209.8" y="411.3" font-size="9.8" font-weight="normal" fill="#000" text-anchor="end" textLength="22" lengthAdjust="spacingAndGlyphs" stroke="#000" stroke-width="0.15"><tspan dy="0.00" font-size="9.80">0.060</tspan></text>
<line x1="247.28" y1="505.70" x2="247.28" y2="501.20" stroke="#000" stroke-width="1" />
<line x1="280.75" y1="505.70" x2="280.75" y2="501.20" stroke="#000" stroke-width="1" />
<line x1="314.23" y1="505.70" x2="314.23" y2="501.20" stroke="#000" stroke-width="1" />
<line x1="230.54" y1="505.70" x2="230.54" y2="502.90" stroke="#000" stroke-width="1" />
<line x1="264.01" y1="505.70" x2="264.01" y2="502.90" stroke="#000" stroke-width="1" />
<line x1="297.49" y1="505.70" x2="297.49" y2="502.90" stroke="#000" stroke-width="1" />
<line x1="330.96" y1="505.70" x2="330.96" y2="502.90" stroke="#000" stroke-width="1" />
<text x="213.8" y="517.6" font-size="10.2" font-weight="normal" fill="#000" text-anchor="middle" textLength="13.6" lengthAdjust="spacingAndGlyphs" stroke="#000" stroke-width="0.15"><tspan dy="0.00" font-size="10.20">550</tspan></text>
<text x="247.275" y="517.6" font-size="10.2" font-weight="normal" fill="#000" text-anchor="middle" textLength="13.6" lengthAdjust="spacingAndGlyphs" stroke="#000" stroke-width="0.15"><tspan dy="0.00" font-size="10.20">600</tspan></text>
<text x="280.75" y="517.6" font-size="10.2" font-weight="normal" fill="#000" text-anchor="middle" textLength="13.6" lengthAdjust="spacingAndGlyphs" stroke="#000" stroke-width="0.15"><tspan dy="0.00" font-size="10.20">650</tspan></text>
<text x="314.225" y="517.6" font-size="10.2" font-weight="normal" fill="#000" text-anchor="middle" textLength="13.6" lengthAdjust="spacingAndGlyphs" stroke="#000" stroke-width="0.15"><tspan dy="0.00" font-size="10.20">700</tspan></text>
<text x="347.70000000000005" y="517.6" font-size="10.2" font-weight="normal" fill="#000" text-anchor="middle" textLength="13.6" lengthAdjust="spacingAndGlyphs" stroke="#000" stroke-width="0.15"><tspan dy="0.00" font-size="10.20">750</tspan></text>
<text x="287.7" y="529.6" font-size="11.2" font-weight="normal" fill="#000" text-anchor="middle" textLength="86.5" lengthAdjust="spacingAndGlyphs" stroke="#000" stroke-width="0.15"><tspan dy="0.00" font-size="11.20">Wavelength (nm)</tspan></text>
<text x="186.2" y="435.5" font-size="11.6" font-weight="normal" fill="#000" text-anchor="middle" transform="rotate(-90 186.2 435.5)" textLength="57.7" lengthAdjust="spacingAndGlyphs" stroke="#000" stroke-width="0.15"><tspan dy="0.00" font-size="11.60">Absorbance</tspan></text>
<line x1="303.60" y1="381.80" x2="313.60" y2="381.80" stroke="#000" stroke-width="1.4" />
<text x="316.3" y="383.90000000000003" font-size="6" font-weight="normal" fill="#000" text-anchor="start" textLength="21.3" lengthAdjust="spacingAndGlyphs" stroke="#000" stroke-width="0.15"><tspan dy="0.00" font-size="6.00">−0.05 V</tspan></text>
<line x1="303.60" y1="389.23" x2="313.60" y2="389.23" stroke="#ff2020" stroke-width="1.4" />
<text x="316.3" y="391.33000000000004" font-size="6" font-weight="normal" fill="#000" text-anchor="start" textLength="21.3" lengthAdjust="spacingAndGlyphs" stroke="#000" stroke-width="0.15"><tspan dy="0.00" font-size="6.00">−0.10 V</tspan></text>
<line x1="303.60" y1="396.66" x2="313.60" y2="396.66" stroke="#10a070" stroke-width="1.4" />
<text x="316.3" y="398.76000000000005" font-size="6" font-weight="normal" fill="#000" text-anchor="start" textLength="21.3" lengthAdjust="spacingAndGlyphs" stroke="#000" stroke-width="0.15"><tspan dy="0.00" font-size="6.00">−0.15 V</tspan></text>
<line x1="303.60" y1="404.09" x2="313.60" y2="404.09" stroke="#3050c8" stroke-width="1.4" />
<text x="316.3" y="406.19000000000005" font-size="6" font-weight="normal" fill="#000" text-anchor="start" textLength="21.3" lengthAdjust="spacingAndGlyphs" stroke="#000" stroke-width="0.15"><tspan dy="0.00" font-size="6.00">−0.20 V</tspan></text>
<line x1="303.60" y1="411.52" x2="313.60" y2="411.52" stroke="#9060c8" stroke-width="1.4" />
<text x="316.3" y="413.62" font-size="6" font-weight="normal" fill="#000" text-anchor="start" textLength="21.3" lengthAdjust="spacingAndGlyphs" stroke="#000" stroke-width="0.15"><tspan dy="0.00" font-size="6.00">−0.25 V</tspan></text>
</g>
<g id="pg">
<text x="364" y="378.6" font-size="27" font-weight="bold" fill="#000" text-anchor="start"  stroke="#000" stroke-width="0.3" stroke-linejoin="round"><tspan dy="0.00" font-size="27.00">g</tspan></text>
<rect x="390.50" y="501.28" width="16.60" height="5.22" fill="#ff2a1c" stroke="#000" stroke-width="1.1" />
<line x1="398.80" y1="500.30" x2="398.80" y2="502.26" stroke="#000" stroke-width="1" />
<line x1="397.00" y1="500.30" x2="400.60" y2="500.30" stroke="#000" stroke-width="1" />
<line x1="397.00" y1="502.26" x2="400.60" y2="502.26" stroke="#000" stroke-width="1" />
<rect x="417.37" y="484.30" width="16.60" height="22.20" fill="#ff2a1c" stroke="#000" stroke-width="1.1" />
<line x1="425.67" y1="481.69" x2="425.67" y2="486.91" stroke="#000" stroke-width="1" />
<line x1="423.87" y1="481.69" x2="427.47" y2="481.69" stroke="#000" stroke-width="1" />
<line x1="423.87" y1="486.91" x2="427.47" y2="486.91" stroke="#000" stroke-width="1" />
<rect x="444.24" y="466.67" width="16.60" height="39.83" fill="#ff2a1c" stroke="#000" stroke-width="1.1" />
<line x1="452.54" y1="462.10" x2="452.54" y2="471.24" stroke="#000" stroke-width="1" />
<line x1="450.74" y1="462.10" x2="454.34" y2="462.10" stroke="#000" stroke-width="1" />
<line x1="450.74" y1="471.24" x2="454.34" y2="471.24" stroke="#000" stroke-width="1" />
<rect x="471.11" y="400.06" width="16.60" height="106.44" fill="#ff2a1c" stroke="#000" stroke-width="1.1" />
<line x1="479.41" y1="389.61" x2="479.41" y2="410.51" stroke="#000" stroke-width="1" />
<line x1="477.61" y1="389.61" x2="481.21" y2="389.61" stroke="#000" stroke-width="1" />
<line x1="477.61" y1="410.51" x2="481.21" y2="410.51" stroke="#000" stroke-width="1" />
<rect x="497.98" y="422.26" width="16.60" height="84.24" fill="#ff2a1c" stroke="#000" stroke-width="1.1" />
<line x1="506.28" y1="413.77" x2="506.28" y2="430.75" stroke="#000" stroke-width="1" />
<line x1="504.48" y1="413.77" x2="508.08" y2="413.77" stroke="#000" stroke-width="1" />
<line x1="504.48" y1="430.75" x2="508.08" y2="430.75" stroke="#000" stroke-width="1" />
<polyline points="398.80,475.71 425.67,458.21 452.54,450.11 479.41,407.18 506.28,457.40" fill="none" stroke="#3a5cc0" stroke-width="1.4" />
<line x1="398.80" y1="473.28" x2="398.80" y2="478.14" stroke="#3a5cc0" stroke-width="1" />
<line x1="397.20" y1="473.28" x2="400.40" y2="473.28" stroke="#3a5cc0" stroke-width="1" />
<line x1="397.20" y1="478.14" x2="400.40" y2="478.14" stroke="#3a5cc0" stroke-width="1" />
<rect x="397.60" y="474.51" width="2.40" height="2.40" fill="#3a5cc0" stroke="none" stroke-width="1" />
<line x1="425.67" y1="453.35" x2="425.67" y2="463.07" stroke="#3a5cc0" stroke-width="1" />
<line x1="424.07" y1="453.35" x2="427.27" y2="453.35" stroke="#3a5cc0" stroke-width="1" />
<line x1="424.07" y1="463.07" x2="427.27" y2="463.07" stroke="#3a5cc0" stroke-width="1" />
<rect x="424.47" y="457.01" width="2.40" height="2.40" fill="#3a5cc0" stroke="none" stroke-width="1" />
<line x1="452.54" y1="444.44" x2="452.54" y2="455.78" stroke="#3a5cc0" stroke-width="1" />
<line x1="450.94" y1="444.44" x2="454.14" y2="444.44" stroke="#3a5cc0" stroke-width="1" />
<line x1="450.94" y1="455.78" x2="454.14" y2="455.78" stroke="#3a5cc0" stroke-width="1" />
<rect x="451.34" y="448.91" width="2.40" height="2.40" fill="#3a5cc0" stroke="none" stroke-width="1" />
<line x1="479.41" y1="395.84" x2="479.41" y2="418.52" stroke="#3a5cc0" stroke-width="1" />
<line x1="477.81" y1="395.84" x2="481.01" y2="395.84" stroke="#3a5cc0" stroke-width="1" />
<line x1="477.81" y1="418.52" x2="481.01" y2="418.52" stroke="#3a5cc0" stroke-width="1" />
<rect x="478.21" y="405.98" width="2.40" height="2.40" fill="#3a5cc0" stroke="none" stroke-width="1" />
<line x1="506.28" y1="452.54" x2="506.28" y2="462.26" stroke="#3a5cc0" stroke-width="1" />
<line x1="504.68" y1="452.54" x2="507.88" y2="452.54" stroke="#3a5cc0" stroke-width="1" />
<line x1="504.68" y1="462.26" x2="507.88" y2="462.26" stroke="#3a5cc0" stroke-width="1" />
<rect x="505.08" y="456.20" width="2.40" height="2.40" fill="#3a5cc0" stroke="none" stroke-width="1" />
<line x1="384.90" y1="377.50" x2="384.90" y2="506.50" stroke="#000" stroke-width="1.2" />
<line x1="384.30" y1="377.50" x2="519.90" y2="377.50" stroke="#000" stroke-width="1.2" />
<line x1="384.30" y1="506.50" x2="519.90" y2="506.50" stroke="#000" stroke-width="1.2" />
<line x1="519.90" y1="376.90" x2="519.90" y2="507.10" stroke="#3a5cc0" stroke-width="1.3" />
<line x1="384.90" y1="486.91" x2="389.40" y2="486.91" stroke="#000" stroke-width="1" />
<line x1="384.90" y1="467.32" x2="389.40" y2="467.32" stroke="#000" stroke-width="1" />
<line x1="384.90" y1="447.73" x2="389.40" y2="447.73" stroke="#000" stroke-width="1" />
<line x1="384.90" y1="428.14" x2="389.40" y2="428.14" stroke="#000" stroke-width="1" />
<line x1="384.90" y1="408.55" x2="389.40" y2="408.55" stroke="#000" stroke-width="1" />
<line x1="384.90" y1="496.70" x2="387.70" y2="496.70" stroke="#000" stroke-width="1" />
<line x1="384.90" y1="477.12" x2="387.70" y2="477.12" stroke="#000" stroke-width="1" />
<line x1="384.90" y1="457.52" x2="387.70" y2="457.52" stroke="#000" stroke-width="1" />
<line x1="384.90" y1="437.94" x2="387.70" y2="437.94" stroke="#000" stroke-width="1" />
<line x1="384.90" y1="418.35" x2="387.70" y2="418.35" stroke="#000" stroke-width="1" />
<line x1="384.90" y1="398.75" x2="387.70" y2="398.75" stroke="#000" stroke-width="1" />
<line x1="384.90" y1="388.96" x2="387.70" y2="388.96" stroke="#000" stroke-width="1" />
<text x="383.4" y="510.1" font-size="10.2" font-weight="normal" fill="#000" text-anchor="end" textLength="5.28" lengthAdjust="spacingAndGlyphs" stroke="#000" stroke-width="0.15"><tspan dy="0.00" font-size="10.20">0</tspan></text>
<text x="383.4" y="490.51000000000005" font-size="10.2" font-weight="normal" fill="#000" text-anchor="end" textLength="5.28" lengthAdjust="spacingAndGlyphs" stroke="#000" stroke-width="0.15"><tspan dy="0.00" font-size="10.20">3</tspan></text>
<text x="383.4" y="470.92" font-size="10.2" font-weight="normal" fill="#000" text-anchor="end" textLength="5.28" lengthAdjust="spacingAndGlyphs" stroke="#000" stroke-width="0.15"><tspan dy="0.00" font-size="10.20">6</tspan></text>
<text x="383.4" y="451.33000000000004" font-size="10.2" font-weight="normal" fill="#000" text-anchor="end" textLength="5.28" lengthAdjust="spacingAndGlyphs" stroke="#000" stroke-width="0.15"><tspan dy="0.00" font-size="10.20">9</tspan></text>
<text x="383.4" y="431.74" font-size="10.2" font-weight="normal" fill="#000" text-anchor="end" textLength="10.55" lengthAdjust="spacingAndGlyphs" stroke="#000" stroke-width="0.15"><tspan dy="0.00" font-size="10.20">12</tspan></text>
<text x="383.4" y="412.15000000000003" font-size="10.2" font-weight="normal" fill="#000" text-anchor="end" textLength="10.55" lengthAdjust="spacingAndGlyphs" stroke="#000" stroke-width="0.15"><tspan dy="0.00" font-size="10.20">15</tspan></text>
<line x1="398.80" y1="506.50" x2="398.80" y2="503.00" stroke="#000" stroke-width="1" />
<line x1="425.67" y1="506.50" x2="425.67" y2="503.00" stroke="#000" stroke-width="1" />
<line x1="452.54" y1="506.50" x2="452.54" y2="503.00" stroke="#000" stroke-width="1" />
<line x1="479.41" y1="506.50" x2="479.41" y2="503.00" stroke="#000" stroke-width="1" />
<line x1="506.28" y1="506.50" x2="506.28" y2="503.00" stroke="#000" stroke-width="1" />
<line x1="412.24" y1="506.50" x2="412.24" y2="504.30" stroke="#000" stroke-width="1" />
<line x1="439.11" y1="506.50" x2="439.11" y2="504.30" stroke="#000" stroke-width="1" />
<line x1="465.98" y1="506.50" x2="465.98" y2="504.30" stroke="#000" stroke-width="1" />
<line x1="492.85" y1="506.50" x2="492.85" y2="504.30" stroke="#000" stroke-width="1" />
<text x="398.8" y="518" font-size="9.9" font-weight="normal" fill="#000" text-anchor="middle"  stroke="#000" stroke-width="0.15"><tspan dy="0.00" font-size="9.90">−0.05</tspan></text>
<text x="425.67" y="518" font-size="9.9" font-weight="normal" fill="#000" text-anchor="middle"  stroke="#000" stroke-width="0.15"><tspan dy="0.00" font-size="9.90">−0.1</tspan></text>
<text x="452.54" y="518" font-size="9.9" font-weight="normal" fill="#000" text-anchor="middle"  stroke="#000" stroke-width="0.15"><tspan dy="0.00" font-size="9.90">−0.15</tspan></text>
<text x="479.41" y="518" font-size="9.9" font-weight="normal" fill="#000" text-anchor="middle"  stroke="#000" stroke-width="0.15"><tspan dy="0.00" font-size="9.90">−0.2</tspan></text>
<text x="506.28000000000003" y="518" font-size="9.9" font-weight="normal" fill="#000" text-anchor="middle"  stroke="#000" stroke-width="0.15"><tspan dy="0.00" font-size="9.90">−0.25</tspan></text>
<text x="453.5" y="530.3" font-size="11.5" text-anchor="middle" textLength="99" lengthAdjust="spacingAndGlyphs">Potential (V <tspan font-style="italic">vs.</tspan>RHE)</text>
<text x="366" y="446.8" font-size="13.3" font-weight="normal" fill="#000" text-anchor="middle" transform="rotate(-90 366 446.8)" textLength="109.5" lengthAdjust="spacingAndGlyphs" stroke="#000" stroke-width="0.15"><tspan dy="0.00" font-size="13.30">r</tspan><tspan dy="3.33" font-size="9.04">NH3</tspan><tspan dy="-3.33" font-size="13.30">(µg h</tspan><tspan dy="-5.05" font-size="9.04">−1</tspan><tspan dy="5.05" font-size="13.30"> mg</tspan><tspan dy="3.33" font-size="9.04">cat</tspan><tspan dy="-8.38" font-size="9.04">−1</tspan><tspan dy="5.05" font-size="13.30">)</tspan></text>
<line x1="519.90" y1="506.00" x2="523.90" y2="506.00" stroke="#3a5cc0" stroke-width="1.1" />
<text x="524.5" y="509.6" font-size="10.2" font-weight="normal" fill="#3a5cc0" text-anchor="start"  stroke="#3a5cc0" stroke-width="0.15"><tspan dy="0.00" font-size="10.20">0</tspan></text>
<line x1="519.90" y1="473.60" x2="523.90" y2="473.60" stroke="#3a5cc0" stroke-width="1.1" />
<text x="524.5" y="477.20000000000005" font-size="10.2" font-weight="normal" fill="#3a5cc0" text-anchor="start"  stroke="#3a5cc0" stroke-width="0.15"><tspan dy="0.00" font-size="10.20">2</tspan></text>
<line x1="519.90" y1="441.20" x2="523.90" y2="441.20" stroke="#3a5cc0" stroke-width="1.1" />
<text x="524.5" y="444.8" font-size="10.2" font-weight="normal" fill="#3a5cc0" text-anchor="start"  stroke="#3a5cc0" stroke-width="0.15"><tspan dy="0.00" font-size="10.20">4</tspan></text>
<line x1="519.90" y1="408.80" x2="523.90" y2="408.80" stroke="#3a5cc0" stroke-width="1.1" />
<text x="524.5" y="412.40000000000003" font-size="10.2" font-weight="normal" fill="#3a5cc0" text-anchor="start"  stroke="#3a5cc0" stroke-width="0.15"><tspan dy="0.00" font-size="10.20">6</tspan></text>
<line x1="519.90" y1="489.80" x2="522.40" y2="489.80" stroke="#3a5cc0" stroke-width="1.1" />
<line x1="519.90" y1="457.40" x2="522.40" y2="457.40" stroke="#3a5cc0" stroke-width="1.1" />
<line x1="519.90" y1="425.00" x2="522.40" y2="425.00" stroke="#3a5cc0" stroke-width="1.1" />
<line x1="519.90" y1="392.60" x2="522.40" y2="392.60" stroke="#3a5cc0" stroke-width="1.1" />
<text x="532.6" y="436.5" font-size="13.3" font-weight="normal" fill="#3a5cc0" text-anchor="middle" transform="rotate(90 532.6 436.5)" textLength="30.5" lengthAdjust="spacingAndGlyphs" stroke="#3a5cc0" stroke-width="0.15"><tspan dy="0.00" font-size="13.30">FE (%)</tspan></text>
</g>
<g id="ph">
<text x="6.8" y="561.8" font-size="27.5" font-weight="bold" fill="#000" text-anchor="start"  stroke="#000" stroke-width="0.3" stroke-linejoin="round"><tspan dy="0.00" font-size="27.50">h</tspan></text>
<path d="M64.87,707.12 C66.55,702.54 71.78,688.43 74.91,679.63 C78.04,670.83 80.73,661.82 83.64,654.33 C86.54,646.83 89.45,639.49 92.36,634.69 C95.27,629.89 98.18,627.64 101.09,625.53 C104.00,623.42 105.45,623.05 109.82,622.04 C114.18,621.02 121.45,620.58 127.27,619.42 C133.09,618.25 139.27,617.24 144.73,615.05 C150.18,612.87 155.34,609.88 160.00,606.30 C164.66,602.72 168.47,598.27 172.70,593.60 C176.93,588.93 181.15,582.97 185.40,578.30 C189.65,573.63 194.38,568.65 198.20,565.60 C202.02,562.55 205.55,561.18 208.30,560.00 C211.05,558.82 212.58,558.33 214.70,558.50 C216.82,558.67 218.67,559.38 221.00,561.00 C223.33,562.62 226.15,565.95 228.70,568.20 C231.25,570.45 233.75,573.03 236.30,574.50 C238.85,575.97 241.45,577.12 244.00,577.00 C246.55,576.88 249.27,575.07 251.60,573.80 C253.93,572.53 255.67,570.33 258.00,569.40 C260.33,568.47 264.33,568.40 265.60,568.20" fill="none" stroke="#12b012" stroke-width="1.5"/>
<path d="M265.60,568.20 C265.53,569.17 265.83,571.25 265.20,574.00 C264.57,576.75 263.50,581.78 261.80,584.70 C260.10,587.62 257.55,589.50 255.00,591.50 C252.45,593.50 249.62,594.87 246.50,596.70 C243.38,598.53 238.80,600.20 236.30,602.50 C233.80,604.80 233.18,607.95 231.50,610.50 C229.82,613.05 227.65,617.47 226.20,617.80 C224.75,618.13 223.87,614.88 222.80,612.50 C221.73,610.12 220.72,605.72 219.80,603.50 C218.88,601.28 219.22,600.08 217.30,599.20 C215.38,598.32 213.62,597.65 208.30,598.20 C202.98,598.75 191.75,600.72 185.40,602.50 C179.05,604.28 174.43,606.15 170.20,608.90 C165.97,611.65 162.43,614.85 160.00,619.00 C157.57,623.15 157.45,629.17 155.63,633.82 C153.82,638.47 150.91,643.63 149.09,646.91 C147.27,650.18 146.03,652.14 144.73,653.45 C143.42,654.76 142.54,655.13 141.23,654.76 C139.93,654.40 138.47,653.67 136.87,651.27 C135.27,648.87 133.24,644.00 131.64,640.36 C130.04,636.73 128.73,632.22 127.27,629.45 C125.82,626.69 124.73,625.02 122.91,623.78 C121.09,622.54 118.54,622.18 116.36,622.04 C114.18,621.89 112.00,622.18 109.82,622.91 C107.64,623.64 105.82,623.85 103.27,626.40 C100.73,628.94 97.45,632.94 94.54,638.18 C91.64,643.42 88.73,650.91 85.82,657.82 C82.91,664.73 80.58,671.42 77.09,679.63 C73.60,687.85 66.91,702.54 64.87,707.12" fill="none" stroke="#12b012" stroke-width="1.5"/>
<path d="M64.87,672.22 C66.18,669.09 69.96,659.85 72.73,653.45 C75.49,647.05 78.54,639.63 81.45,633.82 C84.36,628.00 87.27,622.54 90.18,618.54 C93.09,614.54 95.64,611.85 98.91,609.82 C102.18,607.78 105.09,607.27 109.82,606.33 C114.54,605.38 120.73,605.02 127.27,604.14 C133.82,603.27 143.63,601.78 149.09,601.09 C154.54,600.40 155.63,600.82 160.00,600.00 C164.37,599.18 170.22,598.03 175.30,596.20 C180.38,594.37 185.42,591.55 190.50,589.00 C195.58,586.45 201.55,582.58 205.80,580.90 C210.05,579.22 212.60,578.98 216.00,578.90 C219.40,578.82 222.38,579.55 226.20,580.40 C230.02,581.25 234.25,582.73 238.90,584.00 C243.55,585.27 249.65,587.17 254.10,588.00 C258.55,588.83 263.68,588.83 265.60,589.00" fill="none" stroke="#222" stroke-width="1.2" stroke-dasharray="4 2.5"/>
<path d="M265.60,589.00 C264.97,589.68 263.72,591.90 261.80,593.10 C259.88,594.30 257.50,595.27 254.10,596.20 C250.70,597.13 246.48,597.87 241.40,598.70 C236.32,599.53 230.80,600.57 223.60,601.20 C216.40,601.83 205.40,601.98 198.20,602.50 C191.00,603.02 185.50,603.45 180.40,604.30 C175.30,605.15 171.00,606.42 167.60,607.60 C164.20,608.78 161.99,609.43 160.00,611.40 C158.01,613.37 157.45,618.23 155.63,619.42 C153.82,620.61 151.27,619.27 149.09,618.54 C146.91,617.82 144.73,615.78 142.54,615.05 C140.36,614.33 138.54,614.18 136.00,614.18 C133.45,614.18 130.91,614.69 127.27,615.05 C123.64,615.42 118.18,615.64 114.18,616.36 C110.18,617.09 106.54,617.96 103.27,619.42 C100.00,620.87 97.45,621.96 94.54,625.09 C91.64,628.22 88.73,633.31 85.82,638.18 C82.91,643.05 80.58,648.65 77.09,654.33 C73.60,660.00 66.91,669.23 64.87,672.22" fill="none" stroke="#222" stroke-width="1.2" stroke-dasharray="4 2.5"/>
<rect x="42.50" y="544.50" width="230.70" height="177.90" fill="none" stroke="#222" stroke-width="0.9" />
<text x="37.2" y="725.6999999999999" font-size="9.3" font-weight="normal" fill="#000" text-anchor="end"  stroke="#000" stroke-width="0.15"><tspan dy="0.00" font-size="9.30">−12</tspan></text>
<line x1="42.50" y1="701.50" x2="45.70" y2="701.50" stroke="#222" stroke-width="0.9" />
<text x="37.2" y="704.8" font-size="9.3" font-weight="normal" fill="#000" text-anchor="end"  stroke="#000" stroke-width="0.15"><tspan dy="0.00" font-size="9.30">−10</tspan></text>
<line x1="42.50" y1="680.60" x2="45.70" y2="680.60" stroke="#222" stroke-width="0.9" />
<text x="37.2" y="683.9" font-size="9.3" font-weight="normal" fill="#000" text-anchor="end"  stroke="#000" stroke-width="0.15"><tspan dy="0.00" font-size="9.30">−8</tspan></text>
<line x1="42.50" y1="659.70" x2="45.70" y2="659.70" stroke="#222" stroke-width="0.9" />
<text x="37.2" y="663.0" font-size="9.3" font-weight="normal" fill="#000" text-anchor="end"  stroke="#000" stroke-width="0.15"><tspan dy="0.00" font-size="9.30">−6</tspan></text>
<line x1="42.50" y1="638.80" x2="45.70" y2="638.80" stroke="#222" stroke-width="0.9" />
<text x="37.2" y="642.0999999999999" font-size="9.3" font-weight="normal" fill="#000" text-anchor="end"  stroke="#000" stroke-width="0.15"><tspan dy="0.00" font-size="9.30">−4</tspan></text>
<line x1="42.50" y1="617.90" x2="45.70" y2="617.90" stroke="#222" stroke-width="0.9" />
<text x="37.2" y="621.1999999999999" font-size="9.3" font-weight="normal" fill="#000" text-anchor="end"  stroke="#000" stroke-width="0.15"><tspan dy="0.00" font-size="9.30">−2</tspan></text>
<line x1="42.50" y1="597.00" x2="45.70" y2="597.00" stroke="#222" stroke-width="0.9" />
<text x="37.2" y="600.3" font-size="9.3" font-weight="normal" fill="#000" text-anchor="end"  stroke="#000" stroke-width="0.15"><tspan dy="0.00" font-size="9.30">0</tspan></text>
<line x1="42.50" y1="576.10" x2="45.70" y2="576.10" stroke="#222" stroke-width="0.9" />
<text x="37.2" y="579.4" font-size="9.3" font-weight="normal" fill="#000" text-anchor="end"  stroke="#000" stroke-width="0.15"><tspan dy="0.00" font-size="9.30">2</tspan></text>
<line x1="42.50" y1="555.20" x2="45.70" y2="555.20" stroke="#222" stroke-width="0.9" />
<text x="37.2" y="558.5" font-size="9.3" font-weight="normal" fill="#000" text-anchor="end"  stroke="#000" stroke-width="0.15"><tspan dy="0.00" font-size="9.30">4</tspan></text>
<line x1="42.50" y1="711.95" x2="44.50" y2="711.95" stroke="#222" stroke-width="0.9" />
<line x1="42.50" y1="691.05" x2="44.50" y2="691.05" stroke="#222" stroke-width="0.9" />
<line x1="42.50" y1="670.15" x2="44.50" y2="670.15" stroke="#222" stroke-width="0.9" />
<line x1="42.50" y1="649.25" x2="44.50" y2="649.25" stroke="#222" stroke-width="0.9" />
<line x1="42.50" y1="628.35" x2="44.50" y2="628.35" stroke="#222" stroke-width="0.9" />
<line x1="42.50" y1="607.45" x2="44.50" y2="607.45" stroke="#222" stroke-width="0.9" />
<line x1="42.50" y1="586.55" x2="44.50" y2="586.55" stroke="#222" stroke-width="0.9" />
<line x1="42.50" y1="565.65" x2="44.50" y2="565.65" stroke="#222" stroke-width="0.9" />
<text x="43.500000000000014" y="734.5" font-size="9.3" font-weight="normal" fill="#000" text-anchor="middle"  stroke="#000" stroke-width="0.15"><tspan dy="0.00" font-size="9.30">−0.50</tspan></text>
<line x1="92.90" y1="722.40" x2="92.90" y2="719.20" stroke="#222" stroke-width="0.9" />
<text x="93.9" y="734.5" font-size="9.3" font-weight="normal" fill="#000" text-anchor="middle"  stroke="#000" stroke-width="0.15"><tspan dy="0.00" font-size="9.30">−0.25</tspan></text>
<line x1="143.30" y1="722.40" x2="143.30" y2="719.20" stroke="#222" stroke-width="0.9" />
<text x="143.3" y="734.5" font-size="9.3" font-weight="normal" fill="#000" text-anchor="middle"  stroke="#000" stroke-width="0.15"><tspan dy="0.00" font-size="9.30">0.00</tspan></text>
<line x1="193.70" y1="722.40" x2="193.70" y2="719.20" stroke="#222" stroke-width="0.9" />
<text x="193.70000000000002" y="734.5" font-size="9.3" font-weight="normal" fill="#000" text-anchor="middle"  stroke="#000" stroke-width="0.15"><tspan dy="0.00" font-size="9.30">0.25</tspan></text>
<line x1="244.10" y1="722.40" x2="244.10" y2="719.20" stroke="#222" stroke-width="0.9" />
<text x="244.10000000000002" y="734.5" font-size="9.3" font-weight="normal" fill="#000" text-anchor="middle"  stroke="#000" stroke-width="0.15"><tspan dy="0.00" font-size="9.30">0.50</tspan></text>
<line x1="67.70" y1="722.40" x2="67.70" y2="720.40" stroke="#222" stroke-width="0.9" />
<line x1="118.10" y1="722.40" x2="118.10" y2="720.40" stroke="#222" stroke-width="0.9" />
<line x1="168.50" y1="722.40" x2="168.50" y2="720.40" stroke="#222" stroke-width="0.9" />
<line x1="218.90" y1="722.40" x2="218.90" y2="720.40" stroke="#222" stroke-width="0.9" />
<line x1="269.30" y1="722.40" x2="269.30" y2="720.40" stroke="#222" stroke-width="0.9" />
<text x="152.5" y="747.5" font-size="8.5" font-weight="bold" fill="#000" text-anchor="middle"  stroke="#000" stroke-width="0.3" stroke-linejoin="round"><tspan dy="0.00" font-size="8.50">Potential (V vs RHE)</tspan></text>
<text x="18.2" y="652.3" font-size="11.3" font-weight="bold" fill="#000" text-anchor="middle" transform="rotate(-90 18.2 652.3)"  stroke="#000" stroke-width="0.3" stroke-linejoin="round"><tspan dy="0.00" font-size="11.30">Current density (mA cm</tspan><tspan dy="-4.29" font-size="7.91">−2</tspan><tspan dy="4.29" font-size="11.30">)</tspan></text>
<text x="223" y="558.5" font-size="9.5" font-weight="bold" fill="#000" text-anchor="start"  stroke="#000" stroke-width="0.3" stroke-linejoin="round"><tspan dy="0.00" font-size="9.50">O</tspan><tspan dy="2.38" font-size="5.70">1</tspan></text>
<text x="223" y="634.5" font-size="9.5" font-weight="bold" fill="#000" text-anchor="start"  stroke="#000" stroke-width="0.3" stroke-linejoin="round"><tspan dy="0.00" font-size="9.50">R</tspan><tspan dy="2.38" font-size="8.55">1</tspan></text>
<text x="137" y="671.5" font-size="9.5" font-weight="bold" fill="#000" text-anchor="start"  stroke="#000" stroke-width="0.3" stroke-linejoin="round"><tspan dy="0.00" font-size="9.50">R</tspan><tspan dy="2.38" font-size="5.70">2</tspan></text>
<line x1="90.00" y1="695.00" x2="109.00" y2="695.00" stroke="#222" stroke-width="1.2" stroke-dasharray="3.5 2.5"/>
<text x="111.6" y="698" font-size="8.6" font-weight="normal" fill="#000" text-anchor="start"  stroke="#000" stroke-width="0.15"><tspan dy="0.00" font-size="8.60">0.1 mol L</tspan><tspan dy="-3.27" font-size="6.02">−1</tspan><tspan dy="3.27" font-size="8.60"> Na</tspan><tspan dy="2.15" font-size="6.02">2</tspan><tspan dy="-2.15" font-size="8.60">SO</tspan><tspan dy="2.15" font-size="6.02">4</tspan></text>
<line x1="90.00" y1="708.00" x2="109.00" y2="708.00" stroke="#12b012" stroke-width="1.5" />
<text x="111.6" y="711" font-size="8.6" font-weight="normal" fill="#000" text-anchor="start"  stroke="#000" stroke-width="0.15"><tspan dy="0.00" font-size="8.60">0.1 mol L</tspan><tspan dy="-3.27" font-size="6.02">−1</tspan><tspan dy="3.27" font-size="8.60"> Na</tspan><tspan dy="2.15" font-size="6.02">2</tspan><tspan dy="-2.15" font-size="8.60">SO</tspan><tspan dy="2.15" font-size="6.02">4</tspan><tspan dy="-2.15" font-size="8.60">+10 mmol L</tspan><tspan dy="-3.27" font-size="6.02">−1</tspan><tspan dy="3.27" font-size="8.60"> NaNO</tspan><tspan dy="2.15" font-size="6.02">3</tspan></text>
</g>
<g id="pi">
<text x="280.4" y="562" font-size="27.5" font-weight="bold" fill="#000" text-anchor="start"  stroke="#000" stroke-width="0.3" stroke-linejoin="round"><tspan dy="0.00" font-size="27.50">i</tspan></text>
<rect x="316.20" y="557.42" width="28.80" height="162.88" fill="#000" stroke="none" stroke-width="1" />
<rect x="357.20" y="643.52" width="28.80" height="76.78" fill="#ff7f0e" stroke="none" stroke-width="1" />
<rect x="398.20" y="657.48" width="28.80" height="62.82" fill="#00007f" stroke="none" stroke-width="1" />
<rect x="439.20" y="672.02" width="28.80" height="48.28" fill="#c4c400" stroke="none" stroke-width="1" />
<rect x="480.20" y="626.84" width="28.80" height="93.46" fill="#808080" stroke="none" stroke-width="1" />
<path d="M328.00,620.68L333.20,625.88M328.00,625.88L333.20,620.68" stroke="#ff1a1a" stroke-width="1.3" fill="none"/>
<path d="M369.00,688.38L374.20,693.58M369.00,693.58L374.20,688.38" stroke="#ff1a1a" stroke-width="1.3" fill="none"/>
<path d="M410.00,668.84L415.20,674.04M410.00,674.04L415.20,668.84" stroke="#ff1a1a" stroke-width="1.3" fill="none"/>
<path d="M451.00,665.35L456.20,670.55M451.00,670.55L456.20,665.35" stroke="#ff1a1a" stroke-width="1.3" fill="none"/>
<path d="M492.00,582.99L497.20,588.19M492.00,588.19L497.20,582.99" stroke="#ff1a1a" stroke-width="1.3" fill="none"/>
<line x1="309.40" y1="545.80" x2="309.40" y2="720.30" stroke="#444" stroke-width="0.9" />
<line x1="309.40" y1="545.80" x2="514.80" y2="545.80" stroke="#666" stroke-width="0.9" />
<line x1="309.40" y1="720.30" x2="514.80" y2="720.30" stroke="#444" stroke-width="0.9" />
<line x1="514.80" y1="545.80" x2="514.80" y2="720.30" stroke="#ff4a4a" stroke-width="0.9" />
<text x="306.4" y="722.8" font-size="6.9" font-weight="normal" fill="#000" text-anchor="end"  stroke="#000" stroke-width="0.15"><tspan dy="0.00" font-size="6.90">0</tspan></text>
<line x1="309.40" y1="700.91" x2="312.40" y2="700.91" stroke="#444" stroke-width="0.8" />
<text x="306.4" y="703.41" font-size="6.9" font-weight="normal" fill="#000" text-anchor="end"  stroke="#000" stroke-width="0.15"><tspan dy="0.00" font-size="6.90">5</tspan></text>
<line x1="309.40" y1="681.52" x2="312.40" y2="681.52" stroke="#444" stroke-width="0.8" />
<text x="306.4" y="684.02" font-size="6.9" font-weight="normal" fill="#000" text-anchor="end"  stroke="#000" stroke-width="0.15"><tspan dy="0.00" font-size="6.90">10</tspan></text>
<line x1="309.40" y1="662.13" x2="312.40" y2="662.13" stroke="#444" stroke-width="0.8" />
<text x="306.4" y="664.63" font-size="6.9" font-weight="normal" fill="#000" text-anchor="end"  stroke="#000" stroke-width="0.15"><tspan dy="0.00" font-size="6.90">15</tspan></text>
<line x1="309.40" y1="642.74" x2="312.40" y2="642.74" stroke="#444" stroke-width="0.8" />
<text x="306.4" y="645.24" font-size="6.9" font-weight="normal" fill="#000" text-anchor="end"  stroke="#000" stroke-width="0.15"><tspan dy="0.00" font-size="6.90">20</tspan></text>
<line x1="309.40" y1="623.35" x2="312.40" y2="623.35" stroke="#444" stroke-width="0.8" />
<text x="306.4" y="625.8499999999999" font-size="6.9" font-weight="normal" fill="#000" text-anchor="end"  stroke="#000" stroke-width="0.15"><tspan dy="0.00" font-size="6.90">25</tspan></text>
<line x1="309.40" y1="603.96" x2="312.40" y2="603.96" stroke="#444" stroke-width="0.8" />
<text x="306.4" y="606.4599999999999" font-size="6.9" font-weight="normal" fill="#000" text-anchor="end"  stroke="#000" stroke-width="0.15"><tspan dy="0.00" font-size="6.90">30</tspan></text>
<line x1="309.40" y1="584.57" x2="312.40" y2="584.57" stroke="#444" stroke-width="0.8" />
<text x="306.4" y="587.0699999999999" font-size="6.9" font-weight="normal" fill="#000" text-anchor="end"  stroke="#000" stroke-width="0.15"><tspan dy="0.00" font-size="6.90">35</tspan></text>
<line x1="309.40" y1="565.18" x2="312.40" y2="565.18" stroke="#444" stroke-width="0.8" />
<text x="306.4" y="567.68" font-size="6.9" font-weight="normal" fill="#000" text-anchor="end"  stroke="#000" stroke-width="0.15"><tspan dy="0.00" font-size="6.90">40</tspan></text>
<text x="306.4" y="548.29" font-size="6.9" font-weight="normal" fill="#000" text-anchor="end"  stroke="#000" stroke-width="0.15"><tspan dy="0.00" font-size="6.90">45</tspan></text>
<line x1="309.40" y1="710.60" x2="311.20" y2="710.60" stroke="#444" stroke-width="0.8" />
<line x1="309.40" y1="691.21" x2="311.20" y2="691.21" stroke="#444" stroke-width="0.8" />
<line x1="309.40" y1="671.82" x2="311.20" y2="671.82" stroke="#444" stroke-width="0.8" />
<line x1="309.40" y1="652.43" x2="311.20" y2="652.43" stroke="#444" stroke-width="0.8" />
<line x1="309.40" y1="633.04" x2="311.20" y2="633.04" stroke="#444" stroke-width="0.8" />
<line x1="309.40" y1="613.65" x2="311.20" y2="613.65" stroke="#444" stroke-width="0.8" />
<line x1="309.40" y1="594.26" x2="311.20" y2="594.26" stroke="#444" stroke-width="0.8" />
<line x1="309.40" y1="574.88" x2="311.20" y2="574.88" stroke="#444" stroke-width="0.8" />
<line x1="309.40" y1="555.48" x2="311.20" y2="555.48" stroke="#444" stroke-width="0.8" />
<text x="518.6" y="722.8" font-size="6.9" font-weight="normal" fill="#ff1a1a" text-anchor="start"  stroke="#ff1a1a" stroke-width="0.15"><tspan dy="0.00" font-size="6.90">8.0</tspan></text>
<line x1="514.80" y1="685.40" x2="512.00" y2="685.40" stroke="#ff4a4a" stroke-width="0.8" />
<text x="518.6" y="687.9" font-size="6.9" font-weight="normal" fill="#ff1a1a" text-anchor="start"  stroke="#ff1a1a" stroke-width="0.15"><tspan dy="0.00" font-size="6.90">8.5</tspan></text>
<line x1="514.80" y1="650.50" x2="512.00" y2="650.50" stroke="#ff4a4a" stroke-width="0.8" />
<text x="518.6" y="653.0" font-size="6.9" font-weight="normal" fill="#ff1a1a" text-anchor="start"  stroke="#ff1a1a" stroke-width="0.15"><tspan dy="0.00" font-size="6.90">9.0</tspan></text>
<line x1="514.80" y1="615.60" x2="512.00" y2="615.60" stroke="#ff4a4a" stroke-width="0.8" />
<text x="518.6" y="618.0999999999999" font-size="6.9" font-weight="normal" fill="#ff1a1a" text-anchor="start"  stroke="#ff1a1a" stroke-width="0.15"><tspan dy="0.00" font-size="6.90">9.5</tspan></text>
<line x1="514.80" y1="580.70" x2="512.00" y2="580.70" stroke="#ff4a4a" stroke-width="0.8" />
<text x="518.6" y="583.1999999999999" font-size="6.9" font-weight="normal" fill="#ff1a1a" text-anchor="start"  stroke="#ff1a1a" stroke-width="0.15"><tspan dy="0.00" font-size="6.90">10.0</tspan></text>
<text x="518.6" y="548.3" font-size="6.9" font-weight="normal" fill="#ff1a1a" text-anchor="start"  stroke="#ff1a1a" stroke-width="0.15"><tspan dy="0.00" font-size="6.90">10.5</tspan></text>
<line x1="514.80" y1="702.85" x2="513.00" y2="702.85" stroke="#ff4a4a" stroke-width="0.8" />
<line x1="514.80" y1="667.95" x2="513.00" y2="667.95" stroke="#ff4a4a" stroke-width="0.8" />
<line x1="514.80" y1="633.05" x2="513.00" y2="633.05" stroke="#ff4a4a" stroke-width="0.8" />
<line x1="514.80" y1="598.15" x2="513.00" y2="598.15" stroke="#ff4a4a" stroke-width="0.8" />
<line x1="514.80" y1="563.25" x2="513.00" y2="563.25" stroke="#ff4a4a" stroke-width="0.8" />
<text x="330.6" y="728.8" font-size="7.2" font-weight="normal" fill="#222" text-anchor="middle"  stroke="#222" stroke-width="0.15"><tspan dy="0.00" font-size="7.20">Cu</tspan></text>
<text x="371.6" y="728.8" font-size="7.2" font-weight="normal" fill="#222" text-anchor="middle"  stroke="#222" stroke-width="0.15"><tspan dy="0.00" font-size="7.20">Cu-Pt 60 s</tspan></text>
<text x="412.6" y="728.8" font-size="7.2" font-weight="normal" fill="#222" text-anchor="middle"  stroke="#222" stroke-width="0.15"><tspan dy="0.00" font-size="7.20">Cu-Pt 120 s</tspan></text>
<text x="453.6" y="728.8" font-size="7.2" font-weight="normal" fill="#222" text-anchor="middle"  stroke="#222" stroke-width="0.15"><tspan dy="0.00" font-size="7.20">Cu-Pt 180 s</tspan></text>
<text x="494.6" y="728.8" font-size="7.2" font-weight="normal" fill="#222" text-anchor="middle"  stroke="#222" stroke-width="0.15"><tspan dy="0.00" font-size="7.20">Cu-Pt 360 s</tspan></text>
<text x="412" y="743.2" font-size="8.5" font-weight="bold" fill="#000" text-anchor="middle"  stroke="#000" stroke-width="0.3" stroke-linejoin="round"><tspan dy="0.00" font-size="8.50">Electrode</tspan></text>
<text x="290" y="639.4" font-size="9.6" font-weight="bold" fill="#000" text-anchor="middle" transform="rotate(-90 290 639.4)" textLength="106" lengthAdjust="spacingAndGlyphs" stroke="#000" stroke-width="0.3" stroke-linejoin="round"><tspan dy="0.00" font-size="9.60">EE/O (kWh m</tspan><tspan dy="-3.65" font-size="6.72">−3</tspan><tspan dy="3.65" font-size="9.60"> order</tspan><tspan dy="-3.65" font-size="6.72">−1</tspan><tspan dy="3.65" font-size="9.60">)</tspan></text>
<text x="543" y="638.7" font-size="9.6" font-weight="bold" fill="#ff1a1a" text-anchor="middle" transform="rotate(-90 543 638.7)" textLength="27.5" lengthAdjust="spacingAndGlyphs" stroke="#ff1a1a" stroke-width="0.3" stroke-linejoin="round"><tspan dy="0.00" font-size="9.60">E</tspan><tspan dy="2.40" font-size="4.80">cell</tspan><tspan dy="-2.40" font-size="9.60"> (V)</tspan></text>
</g>
</svg>
</body></html>
